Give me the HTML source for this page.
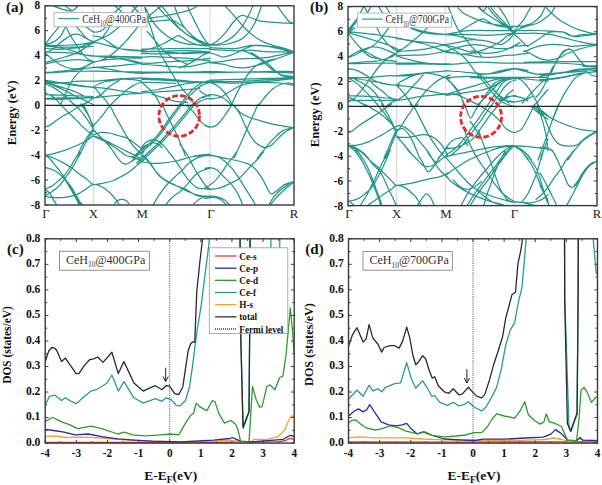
<!DOCTYPE html><html><head><meta charset="utf-8"><style>
html,body{margin:0;padding:0;background:#fff;overflow:hidden}
svg{display:block}
text{font-family:"Liberation Serif",serif}
.tk{font-weight:bold;font-size:13.2px;fill:#111}
.kl{font-size:12.8px;fill:#222}
.pl{font-weight:bold;font-size:15px;fill:#111}
.at{font-weight:bold;font-size:12.5px;fill:#111}
.lg{font-size:11px;fill:#333}
.lb{font-weight:bold;font-size:10px;fill:#111}
</style></head><body>
<svg width="602" height="485" viewBox="0 0 602 485">
<rect width="602" height="485" fill="#fff"/>
<line x1="93.3" y1="5.8" x2="93.3" y2="205.0" stroke="#888" stroke-width="0.7" stroke-dasharray="1,1"/>
<line x1="141.4" y1="5.8" x2="141.4" y2="205.0" stroke="#888" stroke-width="0.7" stroke-dasharray="1,1"/>
<line x1="210.0" y1="5.8" x2="210.0" y2="205.0" stroke="#888" stroke-width="0.7" stroke-dasharray="1,1"/>
<line x1="45.0" y1="205.00" x2="48.2" y2="205.00" stroke="#3a3a3a" stroke-width="1"/>
<text transform="translate(40.0,208.60) scale(0.85,1)" class="tk" text-anchor="end">-8</text>
<line x1="45.0" y1="192.55" x2="47.0" y2="192.55" stroke="#3a3a3a" stroke-width="1"/>
<line x1="45.0" y1="180.10" x2="48.2" y2="180.10" stroke="#3a3a3a" stroke-width="1"/>
<text transform="translate(40.0,183.70) scale(0.85,1)" class="tk" text-anchor="end">-6</text>
<line x1="45.0" y1="167.65" x2="47.0" y2="167.65" stroke="#3a3a3a" stroke-width="1"/>
<line x1="45.0" y1="155.20" x2="48.2" y2="155.20" stroke="#3a3a3a" stroke-width="1"/>
<text transform="translate(40.0,158.80) scale(0.85,1)" class="tk" text-anchor="end">-4</text>
<line x1="45.0" y1="142.75" x2="47.0" y2="142.75" stroke="#3a3a3a" stroke-width="1"/>
<line x1="45.0" y1="130.30" x2="48.2" y2="130.30" stroke="#3a3a3a" stroke-width="1"/>
<text transform="translate(40.0,133.90) scale(0.85,1)" class="tk" text-anchor="end">-2</text>
<line x1="45.0" y1="117.85" x2="47.0" y2="117.85" stroke="#3a3a3a" stroke-width="1"/>
<line x1="45.0" y1="105.40" x2="48.2" y2="105.40" stroke="#3a3a3a" stroke-width="1"/>
<text transform="translate(40.0,109.00) scale(0.85,1)" class="tk" text-anchor="end">0</text>
<line x1="45.0" y1="92.95" x2="47.0" y2="92.95" stroke="#3a3a3a" stroke-width="1"/>
<line x1="45.0" y1="80.50" x2="48.2" y2="80.50" stroke="#3a3a3a" stroke-width="1"/>
<text transform="translate(40.0,84.10) scale(0.85,1)" class="tk" text-anchor="end">2</text>
<line x1="45.0" y1="68.05" x2="47.0" y2="68.05" stroke="#3a3a3a" stroke-width="1"/>
<line x1="45.0" y1="55.60" x2="48.2" y2="55.60" stroke="#3a3a3a" stroke-width="1"/>
<text transform="translate(40.0,59.20) scale(0.85,1)" class="tk" text-anchor="end">4</text>
<line x1="45.0" y1="43.15" x2="47.0" y2="43.15" stroke="#3a3a3a" stroke-width="1"/>
<line x1="45.0" y1="30.70" x2="48.2" y2="30.70" stroke="#3a3a3a" stroke-width="1"/>
<text transform="translate(40.0,34.30) scale(0.85,1)" class="tk" text-anchor="end">6</text>
<line x1="45.0" y1="18.25" x2="47.0" y2="18.25" stroke="#3a3a3a" stroke-width="1"/>
<line x1="45.0" y1="5.80" x2="48.2" y2="5.80" stroke="#3a3a3a" stroke-width="1"/>
<text transform="translate(40.0,9.40) scale(0.85,1)" class="tk" text-anchor="end">8</text>
<clipPath id="ca"><rect x="45" y="5.8" width="249" height="199.2"/></clipPath><g clip-path="url(#ca)" fill="none" stroke="#23968c" stroke-width="1.25" stroke-linecap="round"><path d="M53.3,6.0 C54.8,6.5 59.5,8.5 62.6,9.3 C65.7,10.1 69.7,11.1 71.9,10.9 C74.1,10.7 74.9,8.8 75.9,8.0 C76.9,7.2 77.6,6.3 77.9,6.0 M65.3,6.0 C66.1,6.5 68.8,8.5 69.9,9.3 C71.1,10.1 71.4,10.6 72.2,10.6 C73.0,10.6 74.0,10.1 74.8,9.3 C75.6,8.5 76.8,6.5 77.2,6.0 M113.0,4.0 C114.8,5.7 122.2,12.3 124.0,14.0 M124.0,4.0 C122.2,5.7 114.8,12.3 113.0,14.0 M131.0,4.0 C132.3,5.5 137.7,11.5 139.0,13.0 M139.0,4.0 C137.7,5.5 132.3,11.5 131.0,13.0 M45.7,43.7 C46.3,42.9 48.1,40.5 49.2,39.0 C50.4,37.5 51.5,36.1 52.6,34.6 C53.8,33.1 55.0,31.6 56.1,30.3 C57.2,29.0 58.3,27.9 59.1,26.9 C59.9,25.8 60.7,24.5 61.0,24.0 M45.7,44.6 C46.9,44.2 50.6,43.3 52.6,42.4 C54.6,41.5 56.2,40.4 57.8,39.0 C59.4,37.6 60.8,35.8 62.1,33.8 C63.4,31.8 64.3,27.2 65.6,27.3 C66.9,27.4 68.5,32.2 69.9,34.6 C71.3,37.0 72.9,39.5 74.2,41.5 C75.5,43.5 76.6,45.0 77.7,46.7 C78.8,48.4 79.8,50.2 81.1,51.9 C82.4,53.6 83.9,55.6 85.5,57.1 C87.1,58.6 89.3,59.9 90.6,60.6 C91.9,61.3 92.8,61.3 93.2,61.4 M45.7,52.8 C46.9,52.2 50.3,50.9 52.6,49.3 C54.9,47.7 57.2,45.2 59.5,43.3 C61.8,41.4 64.3,39.5 66.5,38.1 C68.7,36.7 70.8,35.2 72.5,34.6 C74.2,34.0 75.4,34.1 76.8,34.2 C78.2,34.4 79.4,34.7 81.1,35.5 C82.8,36.3 85.2,38.0 87.2,39.0 C89.2,40.0 91.5,41.3 93.2,41.5 C94.9,41.7 95.8,40.9 97.2,40.3 C98.6,39.7 100.1,39.3 101.5,38.1 C102.9,36.9 104.5,34.7 105.8,32.9 C107.1,31.1 108.5,28.6 109.3,27.3 C110.1,26.0 110.3,25.4 110.5,25.0 M75.0,24.0 C75.3,24.5 75.9,25.7 76.8,26.9 C77.7,28.1 79.0,29.6 80.3,31.2 C81.6,32.8 83.2,35.0 84.6,36.4 C86.0,37.8 87.5,38.9 88.9,39.8 C90.3,40.6 91.2,41.6 93.2,41.5 C95.2,41.4 97.9,40.1 100.6,39.0 C103.3,37.9 106.3,36.6 109.3,34.6 C112.3,32.6 116.9,28.9 118.8,27.3 C120.7,25.7 120.2,25.4 120.5,25.0 M84.0,25.0 C84.4,25.3 85.3,26.1 86.3,26.9 C87.3,27.6 88.6,28.7 89.8,29.5 C91.0,30.3 92.0,31.4 93.2,31.8 C94.4,32.2 95.8,32.2 97.2,32.0 C98.6,31.8 100.1,31.7 101.5,30.8 C102.9,29.9 104.9,27.9 105.8,26.9 C106.7,25.9 106.8,25.3 107.0,25.0 M45.7,45.0 C47.6,45.1 53.0,45.4 57.0,45.4 C61.0,45.4 65.6,45.2 69.9,45.0 C74.2,44.8 79.0,44.5 82.9,44.1 C86.8,43.7 90.2,42.5 93.2,42.4 C96.2,42.3 97.9,43.1 100.6,43.7 C103.3,44.3 106.4,45.1 109.3,45.9 C112.2,46.7 115.0,47.9 117.9,48.5 C120.8,49.1 123.7,49.0 126.6,49.3 C129.5,49.6 132.7,50.0 135.2,50.2 C137.7,50.4 140.6,50.5 141.7,50.6 M45.7,46.2 C47.6,46.3 53.0,46.6 57.0,46.8 C61.0,47.0 66.1,47.2 69.9,47.2 C73.7,47.2 77.1,47.2 80.0,46.8 C82.9,46.4 85.0,45.2 87.2,44.6 C89.4,44.0 92.2,43.5 93.2,43.3 M45.7,48.5 C46.9,48.6 50.0,48.8 52.6,48.9 C55.2,49.0 58.4,49.4 61.3,49.3 C64.2,49.2 67.0,48.8 69.9,48.5 C72.8,48.2 75.7,47.9 78.6,47.6 C81.5,47.3 84.8,46.9 87.2,46.7 C89.6,46.5 92.2,46.4 93.2,46.3 M45.7,45.4 C46.9,45.6 50.0,46.3 52.6,46.7 C55.2,47.1 58.4,47.4 61.3,48.0 C64.2,48.6 67.0,49.4 69.9,50.2 C72.8,51.0 75.7,51.9 78.6,52.8 C81.5,53.7 84.8,54.8 87.2,55.4 C89.6,56.0 90.9,56.1 93.2,56.2 C95.5,56.3 98.3,56.0 101.0,56.0 C103.7,56.0 105.0,56.1 109.3,56.2 C113.6,56.3 121.2,56.6 126.6,56.7 C132.0,56.9 139.2,57.0 141.7,57.1 M45.7,51.9 C47.6,52.0 53.0,52.1 57.0,52.3 C61.0,52.4 65.6,52.4 69.9,52.8 C74.2,53.2 79.0,54.0 82.9,54.5 C86.8,55.0 90.2,55.4 93.2,55.8 C96.2,56.2 98.3,56.5 101.0,56.8 C103.7,57.1 105.0,57.3 109.3,57.5 C113.6,57.7 121.2,57.9 126.6,58.0 C132.0,58.1 139.2,58.2 141.7,58.2 M45.7,62.3 C46.9,62.0 50.0,61.3 52.6,60.6 C55.2,59.9 58.4,58.9 61.3,58.0 C64.2,57.1 67.0,56.4 69.9,55.4 C72.8,54.4 76.0,53.2 78.6,51.9 C81.2,50.6 83.5,48.9 85.5,47.6 C87.5,46.3 89.3,44.9 90.6,44.1 C91.9,43.3 92.8,43.0 93.2,42.8 M45.7,53.6 C46.6,54.3 49.3,56.7 50.9,58.0 C52.5,59.3 53.7,60.3 55.2,61.4 C56.7,62.5 58.1,63.5 60.0,64.5 C61.9,65.5 64.5,66.8 66.7,67.5 C68.9,68.2 70.7,68.6 73.0,68.8 C75.3,69.0 77.9,68.9 80.3,68.4 C82.7,67.9 85.4,66.6 87.6,65.6 C89.8,64.6 91.2,63.2 93.4,62.4 C95.6,61.6 97.9,61.1 100.6,60.6 C103.2,60.1 106.4,59.6 109.3,59.3 C112.2,59.0 115.0,58.7 117.9,58.8 C120.8,58.9 123.7,59.3 126.6,59.7 C129.5,60.1 132.7,60.8 135.2,61.4 C137.7,62.0 140.6,62.8 141.7,63.1 M45.7,64.0 C46.9,63.7 50.0,62.8 52.6,62.3 C55.2,61.8 58.4,61.4 61.3,61.0 C64.2,60.6 67.0,60.4 69.9,60.2 C72.8,60.0 75.7,59.6 78.6,59.7 C81.5,59.8 84.8,60.3 87.2,60.6 C89.6,60.9 92.2,61.3 93.2,61.4 M93.3,35.9 C94.0,36.0 95.8,36.1 97.2,36.4 C98.6,36.7 99.9,37.0 101.5,37.7 C103.1,38.4 105.0,39.6 106.7,40.7 C108.4,41.9 110.0,43.4 111.9,44.6 C113.8,45.8 115.5,47.1 117.9,48.0 C120.4,48.9 123.7,49.4 126.6,49.8 C129.5,50.2 132.7,50.4 135.2,50.6 C137.7,50.8 140.6,50.9 141.7,51.0 M100.6,60.6 C102.0,59.9 106.4,58.1 109.3,56.2 C112.2,54.3 115.3,51.6 117.9,49.3 C120.5,47.0 122.6,44.7 124.8,42.4 C127.0,40.1 128.8,38.0 130.9,35.5 C133.0,33.0 136.0,29.1 137.3,27.3 C138.6,25.6 138.3,25.4 138.5,25.0 M109.3,56.2 C110.7,56.6 115.0,57.8 117.9,58.4 C120.8,59.0 123.7,59.5 126.6,60.1 C129.5,60.8 132.7,61.6 135.2,62.3 C137.7,62.9 140.6,63.7 141.7,64.0 M45.8,72.4 C47.0,72.3 50.4,72.2 53.1,72.0 C55.8,71.8 59.1,71.4 62.1,71.1 C65.1,70.8 68.2,70.5 71.2,70.2 C74.2,69.9 76.6,69.8 80.3,69.3 C84.0,68.8 89.9,67.8 93.4,67.4 C96.9,67.0 98.3,67.2 101.1,67.0 C103.9,66.8 107.1,66.7 110.1,66.5 C113.1,66.3 116.2,65.9 119.2,65.6 C122.2,65.3 124.6,65.1 128.3,64.7 C132.0,64.3 139.3,63.6 141.5,63.4 M45.8,72.9 C47.8,72.8 53.4,72.6 57.6,72.4 C61.8,72.2 66.7,71.7 71.2,71.5 C75.7,71.3 81.1,71.1 84.8,71.1 C88.5,71.0 89.2,71.1 93.4,71.2 C97.6,71.3 104.3,71.4 110.1,71.5 C115.9,71.6 123.1,71.8 128.3,71.9 C133.5,72.0 139.3,71.9 141.5,71.9 M93.4,67.0 C94.7,67.2 98.3,67.5 101.1,67.9 C103.9,68.3 107.1,68.8 110.1,69.3 C113.1,69.8 116.2,70.6 119.2,71.1 C122.2,71.6 124.6,72.0 128.3,72.4 C132.0,72.8 139.3,73.2 141.5,73.3 M60.3,105.4 C60.9,103.9 62.8,99.2 64.0,96.5 C65.2,93.8 66.4,91.6 67.6,89.2 C68.8,86.8 69.8,84.3 71.2,82.0 C72.6,79.7 74.3,77.4 75.8,75.6 C77.3,73.8 78.6,72.6 80.3,71.1 C82.0,69.6 83.9,67.9 85.7,66.5 C87.5,65.1 89.9,63.8 91.2,62.9 C92.5,62.0 93.1,61.6 93.5,61.4 M45.8,80.6 C47.0,80.8 50.4,81.1 53.1,81.5 C55.8,81.9 59.1,82.5 62.1,82.9 C65.1,83.4 68.2,83.8 71.2,84.2 C74.2,84.7 76.6,85.1 80.3,85.6 C84.0,86.1 89.9,87.0 93.4,87.4 C96.9,87.8 98.3,87.6 101.1,87.9 C103.9,88.2 107.1,88.8 110.1,89.2 C113.1,89.7 116.2,90.1 119.2,90.6 C122.2,91.0 124.6,91.5 128.3,91.9 C132.0,92.4 139.3,93.1 141.5,93.3 M45.8,81.5 C47.0,81.7 50.4,82.1 53.1,82.4 C55.8,82.7 59.1,83.1 62.1,83.5 C65.1,83.9 68.2,84.5 71.2,84.9 C74.2,85.4 76.6,85.8 80.3,86.2 C84.0,86.6 90.6,86.6 93.4,87.4 C96.2,88.2 96.1,89.6 97.4,91.0 C98.7,92.4 99.7,94.1 101.1,95.6 C102.5,97.1 104.2,98.5 105.6,100.1 C106.9,101.7 108.6,104.5 109.2,105.4 M45.8,83.0 C47.3,83.0 52.0,83.2 55.0,83.2 C58.0,83.2 61.3,83.1 64.0,82.9 C66.7,82.7 68.5,82.3 71.2,82.0 C73.9,81.7 76.6,81.4 80.3,81.2 C84.0,81.0 89.9,81.2 93.4,81.1 C96.9,81.0 98.3,80.8 101.1,80.6 C103.9,80.4 107.1,80.0 110.1,79.7 C113.1,79.4 116.2,79.0 119.2,78.8 C122.2,78.6 124.6,78.4 128.3,78.3 C132.0,78.2 139.3,78.0 141.5,77.9 M93.4,87.0 C94.4,86.5 97.3,84.7 99.3,83.8 C101.3,82.9 103.0,82.1 105.6,81.5 C108.2,80.9 111.7,80.5 114.7,80.1 C117.7,79.7 120.8,79.3 123.8,79.2 C126.8,79.1 129.9,79.4 132.8,79.7 C135.8,80.0 140.1,80.9 141.5,81.1 M45.8,82.4 C47.3,83.0 51.9,84.7 54.9,86.0 C57.9,87.3 61.0,88.6 64.0,90.1 C67.0,91.5 70.0,93.2 73.0,94.7 C76.0,96.2 79.4,97.9 82.1,99.2 C84.8,100.5 87.5,101.9 89.4,102.8 C91.3,103.7 92.8,104.3 93.5,104.6 M45.8,83.8 C47.0,84.4 50.7,86.0 53.1,87.4 C55.5,88.8 58.0,90.3 60.3,92.0 C62.6,93.7 64.7,95.6 66.7,97.4 C68.7,99.2 70.7,101.5 72.1,102.8 C73.5,104.1 74.4,105.0 74.9,105.4 M45.8,94.7 C48.5,94.8 56.4,94.9 62.1,95.1 C67.8,95.3 75.1,95.8 80.3,96.0 C85.5,96.2 91.2,96.4 93.4,96.5 M45.8,98.3 C48.5,98.2 56.4,98.0 62.1,97.9 C67.8,97.8 75.1,97.9 80.3,97.9 C85.5,97.9 89.9,98.0 93.4,97.8 C96.9,97.6 98.3,97.2 101.1,96.9 C103.9,96.6 107.1,96.3 110.1,96.0 C113.1,95.7 116.2,95.4 119.2,95.1 C122.2,94.8 124.6,94.5 128.3,94.2 C132.0,93.9 139.3,93.5 141.5,93.3 M45.8,99.2 C48.5,99.2 56.4,99.4 62.1,99.2 C67.8,99.0 75.1,98.6 80.3,98.3 C85.5,98.0 91.2,97.6 93.4,97.4 M45.8,93.8 C46.7,94.1 49.5,94.5 51.3,95.6 C53.1,96.6 55.1,98.5 56.7,100.1 C58.4,101.7 60.5,104.5 61.2,105.4 M82.1,105.4 C83.0,104.8 85.7,103.1 87.6,101.9 C89.5,100.7 91.3,99.5 93.5,98.3 C95.7,97.1 98.7,96.4 101.0,94.7 C103.3,93.0 105.1,90.3 107.4,88.3 C109.7,86.3 112.7,84.2 114.7,82.9 C116.7,81.6 118.5,81.0 119.2,80.6 M110.1,105.4 C111.3,104.2 114.8,100.7 117.4,98.3 C120.0,95.9 123.0,93.1 125.6,91.0 C128.2,88.9 130.2,87.1 132.8,85.6 C135.5,84.1 140.1,82.6 141.5,82.0 M53.1,84.7 C54.6,85.2 58.3,86.2 62.1,87.4 C65.9,88.6 72.0,90.5 75.8,92.0 C79.6,93.5 81.8,95.5 84.8,96.5 C87.8,97.5 92.0,98.0 93.5,98.3 M144.8,7.6 C145.2,9.2 146.2,13.8 147.2,17.2 C148.2,20.6 149.6,24.3 150.8,27.9 C152.0,31.5 153.2,35.3 154.4,38.7 C155.6,42.1 156.7,45.4 157.9,48.3 C159.1,51.2 160.5,54.1 161.5,56.0 C162.5,57.9 162.5,57.2 163.9,59.6 C165.3,62.0 167.9,66.9 169.9,70.3 C171.9,73.7 173.9,76.9 175.9,79.9 C177.9,82.9 179.9,85.7 181.9,88.3 C183.9,90.9 186.0,93.2 187.8,95.4 C189.6,97.6 191.2,99.8 192.6,101.4 C194.0,103.1 195.6,104.7 196.2,105.3 M145.4,7.6 C146.5,9.8 149.3,16.7 152.0,20.7 C154.7,24.7 157.9,28.3 161.5,31.5 C165.1,34.7 169.1,37.8 173.5,39.9 C177.9,42.0 181.7,43.2 187.8,44.1 C193.9,45.0 206.3,45.1 210.0,45.3 M157.9,7.0 C158.9,8.1 161.7,11.3 163.9,13.6 C166.1,15.9 168.7,18.3 171.1,20.7 C173.5,23.1 175.5,25.5 178.3,27.9 C181.1,30.3 184.6,33.1 187.8,35.1 C191.0,37.1 193.7,38.2 197.4,39.9 C201.1,41.6 207.9,44.4 210.0,45.3 M162.7,7.0 C163.7,8.3 166.5,11.9 168.7,14.8 C170.9,17.7 173.5,21.5 175.9,24.3 C178.3,27.1 180.5,29.3 183.1,31.5 C185.7,33.7 188.6,35.7 191.4,37.5 C194.2,39.3 196.7,41.0 199.8,42.3 C202.9,43.6 208.3,44.8 210.0,45.3 M174.7,7.0 C175.3,8.5 176.9,12.9 178.3,16.0 C179.7,19.1 181.3,22.7 183.1,25.5 C184.9,28.3 186.8,30.5 189.0,32.7 C191.2,34.9 193.8,37.1 196.2,38.7 C198.6,40.3 201.1,41.2 203.4,42.3 C205.7,43.4 208.9,44.8 210.0,45.3 M187.8,7.0 C188.4,8.3 190.0,11.9 191.4,14.8 C192.8,17.7 194.6,21.1 196.2,24.3 C197.8,27.5 199.4,31.1 201.0,33.9 C202.6,36.7 204.3,39.2 205.8,41.1 C207.3,43.0 209.3,44.6 210.0,45.3 M141.8,19.5 C143.5,19.2 148.3,18.4 152.0,17.8 C155.7,17.2 159.9,16.7 163.9,16.0 C167.9,15.3 171.9,14.5 175.9,13.6 C179.9,12.7 184.4,11.7 187.8,10.6 C191.2,9.5 194.8,7.6 196.2,7.0 M141.8,22.3 C143.5,22.2 148.3,21.8 152.0,21.5 C155.7,21.2 160.5,20.7 163.9,20.5 C167.3,20.3 169.7,19.6 172.3,20.2 C174.9,20.8 177.3,23.0 179.5,24.3 C181.7,25.6 184.5,27.4 185.5,28.0 M141.8,22.0 C142.5,21.4 144.3,19.8 146.0,18.4 C147.7,17.0 150.0,15.2 152.0,13.6 C154.0,12.0 156.3,10.0 157.9,8.8 C159.5,7.6 160.9,6.8 161.5,6.4 M141.8,50.6 C143.5,50.2 148.3,49.5 152.0,48.3 C155.7,47.1 160.5,45.1 163.9,43.5 C167.3,41.9 169.9,40.0 172.3,38.7 C174.7,37.4 176.5,35.8 178.3,35.7 C180.1,35.6 181.1,37.0 183.1,38.1 C185.1,39.2 187.4,41.1 190.2,42.3 C193.0,43.5 196.5,44.7 199.8,45.3 C203.1,45.9 208.3,45.8 210.0,45.9 M141.8,49.2 C145.5,49.1 156.2,48.9 163.9,48.8 C171.6,48.6 180.1,48.3 187.8,48.3 C195.5,48.3 206.3,48.7 210.0,48.8 M141.8,51.6 C145.5,51.5 156.2,51.4 163.9,51.2 C171.6,51.0 180.1,50.5 187.8,50.6 C195.5,50.7 206.3,51.6 210.0,51.8 M141.8,53.5 C145.5,53.5 156.2,54.0 163.9,53.8 C171.6,53.6 180.1,52.8 187.8,52.5 C195.5,52.2 206.3,52.2 210.0,52.2 M147.2,31.5 C148.4,32.9 152.2,37.3 154.4,39.9 C156.6,42.5 158.1,44.7 160.3,47.1 C162.5,49.5 165.1,52.2 167.5,54.2 C169.9,56.2 171.6,57.3 175.0,59.0 C178.4,60.7 185.7,63.5 187.8,64.4 M141.8,52.0 C143.5,51.9 148.3,51.3 152.0,51.3 C155.7,51.3 159.9,51.5 163.9,51.8 C167.9,52.1 171.9,52.7 175.9,53.0 C179.9,53.3 183.8,53.6 187.8,53.6 C191.8,53.6 196.1,53.2 199.8,53.0 C203.5,52.8 208.3,52.5 210.0,52.4 M141.8,57.2 C143.5,57.1 148.3,56.6 152.0,56.6 C155.7,56.6 159.9,57.0 163.9,57.2 C167.9,57.4 171.9,57.6 175.9,57.8 C179.9,58.0 183.8,58.1 187.8,58.4 C191.8,58.7 196.1,59.2 199.8,59.6 C203.5,60.0 208.3,60.6 210.0,60.8 M141.8,63.2 C143.5,63.2 148.3,63.4 152.0,63.2 C155.7,63.0 159.9,62.3 163.9,62.0 C167.9,61.7 171.9,61.6 175.9,61.4 C179.9,61.2 183.8,61.1 187.8,60.8 C191.8,60.5 196.1,60.0 199.8,59.6 C203.5,59.2 208.3,58.6 210.0,58.4 M141.8,64.4 C143.5,64.5 148.3,64.7 152.0,65.0 C155.7,65.3 159.9,65.8 163.9,66.1 C167.9,66.4 171.9,66.6 175.9,66.7 C179.9,66.8 183.8,67.1 187.8,66.7 C191.8,66.3 196.1,65.2 199.8,64.4 C203.5,63.6 208.3,62.4 210.0,62.0 M179.5,67.9 C180.9,67.3 185.0,65.8 187.8,64.4 C190.6,63.0 193.6,61.2 196.2,59.6 C198.8,58.0 201.1,56.0 203.4,54.8 C205.7,53.6 208.9,52.8 210.0,52.4 M141.8,72.1 C145.5,72.1 156.2,72.1 163.9,72.1 C171.6,72.1 180.1,72.2 187.8,72.1 C195.5,72.0 206.3,71.6 210.0,71.5 M141.8,73.3 C145.5,73.2 156.2,72.8 163.9,72.7 C171.6,72.6 180.1,72.7 187.8,72.7 C195.5,72.7 206.3,72.7 210.0,72.7 M141.8,78.1 C144.5,78.2 152.2,78.4 157.9,78.7 C163.6,79.0 169.9,79.4 175.9,79.9 C181.9,80.4 188.1,81.4 193.8,81.7 C199.5,82.0 207.3,81.7 210.0,81.7 M141.8,79.3 C144.5,79.4 152.2,79.6 157.9,79.9 C163.6,80.2 169.9,80.7 175.9,81.1 C181.9,81.5 188.1,82.1 193.8,82.3 C199.5,82.5 207.3,82.3 210.0,82.3 M141.8,82.3 C143.5,82.3 148.3,82.2 152.0,82.3 C155.7,82.4 159.9,82.7 163.9,82.9 C167.9,83.1 173.9,83.4 175.9,83.5 M141.8,82.3 C142.7,83.1 145.5,85.5 147.2,87.1 C148.9,88.7 150.4,90.1 152.0,91.9 C153.6,93.7 155.3,95.6 156.7,97.8 C158.1,100.0 159.7,104.0 160.3,105.3 M141.8,91.9 C144.5,91.5 152.2,90.5 157.9,89.5 C163.6,88.5 170.9,86.9 175.9,85.9 C180.9,84.9 183.8,84.1 187.8,83.5 C191.8,82.9 196.1,82.7 199.8,82.3 C203.5,81.9 208.3,81.3 210.0,81.1 M141.8,93.0 C144.5,92.8 152.2,92.3 157.9,91.9 C163.6,91.5 170.9,91.1 175.9,90.7 C180.9,90.3 183.8,89.9 187.8,89.5 C191.8,89.1 197.8,88.5 199.8,88.3 M152.0,94.3 C154.0,94.9 159.9,96.6 163.9,97.8 C167.9,99.0 171.9,100.6 175.9,101.4 C179.9,102.2 185.8,102.4 187.8,102.6 M179.5,105.3 C180.5,104.0 183.4,100.2 185.4,97.8 C187.4,95.4 189.2,92.9 191.4,90.7 C193.6,88.5 196.0,86.3 198.6,84.7 C201.2,83.1 205.1,81.8 207.0,81.1 C208.9,80.4 209.5,80.6 210.0,80.5 M181.9,105.3 C182.9,104.0 185.8,100.0 187.8,97.8 C189.8,95.6 191.6,93.9 193.8,91.9 C196.0,89.9 198.3,87.5 201.0,85.9 C203.7,84.3 208.5,82.9 210.0,82.3 M192.6,105.3 C193.4,104.5 195.6,101.7 197.4,100.2 C199.2,98.8 201.3,97.4 203.4,96.6 C205.5,95.8 208.9,95.6 210.0,95.4 M195.0,105.3 C195.8,104.7 198.0,102.5 199.8,101.4 C201.6,100.4 204.1,99.5 205.8,99.0 C207.5,98.5 209.3,98.5 210.0,98.4 M199.8,90.7 C200.6,91.3 202.9,93.4 204.6,94.3 C206.3,95.2 209.1,95.7 210.0,96.0 M209.7,45.2 C210.9,44.6 214.1,43.7 216.7,41.6 C219.3,39.5 222.4,36.3 225.3,32.9 C228.2,29.5 231.3,24.2 234.0,21.3 C236.7,18.4 238.8,16.3 241.2,15.6 C243.6,14.9 245.6,16.2 248.5,17.0 C251.4,17.8 255.0,19.8 258.6,20.6 C262.2,21.5 266.5,21.7 270.1,22.1 C273.7,22.5 276.5,22.6 280.3,22.8 C284.1,23.0 290.9,23.4 293.0,23.5 M209.7,45.2 C211.8,44.8 218.4,44.6 222.5,43.0 C226.6,41.4 230.6,38.7 234.0,35.8 C237.4,32.9 240.0,29.5 242.7,25.7 C245.3,21.9 248.2,15.9 249.9,12.7 C251.6,9.4 252.3,7.3 252.8,6.2 M209.7,45.2 C212.3,45.1 220.3,45.4 225.3,44.5 C230.3,43.6 235.9,42.0 239.8,40.1 C243.7,38.2 245.8,36.0 248.5,32.9 C251.2,29.8 253.5,25.8 255.7,21.3 C257.9,16.9 260.5,8.7 261.5,6.2 M225.3,6.2 C226.8,7.8 231.1,12.3 234.0,15.6 C236.9,18.9 239.8,22.6 242.7,25.7 C245.6,28.8 248.0,31.6 251.4,34.3 C254.8,36.9 259.0,39.7 262.9,41.6 C266.8,43.5 270.6,44.7 274.5,45.9 C278.4,47.1 282.9,47.8 286.0,48.8 C289.1,49.8 291.8,51.2 293.0,51.7 M277.4,6.2 C278.3,7.5 281.2,11.6 283.1,14.1 C285.0,16.6 287.2,19.7 288.9,21.3 C290.5,22.9 292.3,23.1 293.0,23.5 M209.7,47.6 C211.8,47.7 217.9,48.2 222.5,48.3 C227.1,48.4 232.2,48.8 237.0,48.3 C241.8,47.8 246.6,45.8 251.4,45.4 C256.2,45.0 261.0,45.6 265.8,46.2 C270.6,46.8 275.8,48.1 280.3,49.1 C284.8,50.1 290.9,51.5 293.0,52.0 M209.7,49.5 C211.8,49.6 217.9,50.0 222.5,50.2 C227.1,50.4 232.2,50.9 237.0,50.9 C241.8,50.9 246.6,50.1 251.4,50.2 C256.2,50.3 258.9,51.3 265.8,51.6 C272.7,51.9 288.5,51.9 293.0,52.0 M209.7,52.7 C210.9,53.1 214.6,54.1 216.7,54.8 C218.8,55.5 220.3,56.9 222.5,57.0 C224.7,57.1 227.3,56.3 229.7,55.6 C232.1,54.9 234.5,53.8 236.9,52.7 C239.3,51.6 241.7,50.2 244.1,49.1 C246.5,48.0 249.0,46.8 251.4,46.2 C253.8,45.6 255.0,45.3 258.6,45.4 C262.2,45.5 267.3,45.8 273.0,46.9 C278.7,48.0 289.7,51.1 293.0,52.0 M244.1,51.2 C245.3,51.7 249.0,52.9 251.4,54.1 C253.8,55.3 256.2,56.8 258.6,58.5 C261.0,60.2 263.4,62.3 265.8,64.2 C268.2,66.1 270.6,68.3 273.0,70.0 C275.4,71.7 277.9,73.3 280.3,74.3 C282.7,75.3 285.4,75.4 287.5,75.8 C289.6,76.2 292.1,76.4 293.0,76.5 M251.4,52.7 C253.3,53.9 259.8,57.7 262.9,59.9 C266.0,62.1 267.7,63.5 270.1,65.7 C272.5,67.9 275.0,71.1 277.4,72.9 C279.8,74.7 282.0,75.8 284.6,76.5 C287.2,77.2 291.6,77.1 293.0,77.2 M209.7,62.8 C211.8,62.5 217.9,61.9 222.5,61.3 C227.1,60.7 232.2,59.7 237.0,59.2 C241.8,58.7 246.6,58.8 251.4,58.5 C256.2,58.2 261.0,58.3 265.8,57.7 C270.6,57.1 275.8,55.8 280.3,54.8 C284.8,53.8 290.9,52.5 293.0,52.0 M209.7,62.8 C211.8,63.0 218.4,63.5 222.5,64.2 C226.6,64.9 230.4,66.5 234.0,67.1 C237.6,67.7 240.5,68.0 244.1,67.8 C247.7,67.6 252.1,66.5 255.7,65.7 C259.3,64.9 262.2,64.0 265.8,62.8 C269.4,61.6 272.9,60.2 277.4,58.5 C281.9,56.8 290.4,53.7 293.0,52.7 M231.1,105.4 C232.1,103.4 234.7,97.3 236.9,93.1 C239.1,88.9 241.7,83.9 244.1,80.1 C246.5,76.2 249.0,72.7 251.4,70.0 C253.8,67.3 256.2,65.7 258.6,64.2 C261.0,62.8 262.7,62.2 265.8,61.3 C268.9,60.3 275.5,59.0 277.4,58.5 M209.7,71.5 C214.2,71.6 227.7,72.2 237.0,72.2 C246.3,72.2 256.5,71.6 265.8,71.5 C275.1,71.4 288.5,71.5 293.0,71.5 M209.7,72.9 C214.2,72.8 227.7,72.3 237.0,72.2 C246.3,72.1 256.5,72.1 265.8,72.2 C275.1,72.3 288.5,72.8 293.0,72.9 M209.7,80.8 C213.3,80.9 224.4,81.6 231.4,81.6 C238.4,81.6 244.5,81.2 251.4,80.8 C258.3,80.4 266.1,79.9 273.0,79.4 C279.9,78.9 289.7,78.2 293.0,78.0 M209.7,82.3 C213.3,82.4 224.4,83.0 231.4,83.0 C238.4,83.0 244.5,82.7 251.4,82.3 C258.3,81.9 266.1,81.4 273.0,80.8 C279.9,80.2 289.7,79.0 293.0,78.7 M209.7,80.1 C214.2,80.0 228.8,79.6 237.0,79.4 C245.2,79.2 251.4,78.9 258.6,78.7 C265.8,78.5 274.6,78.1 280.3,78.0 C286.0,77.9 290.9,78.0 293.0,78.0 M209.7,82.3 C210.9,82.8 214.6,83.9 216.7,85.2 C218.8,86.5 220.6,88.2 222.5,90.2 C224.4,92.2 226.5,95.0 228.2,97.5 C229.9,100.0 231.9,104.1 232.6,105.4 M209.7,94.6 C210.9,94.7 214.6,94.8 216.7,95.3 C218.8,95.8 220.6,96.4 222.5,97.5 C224.4,98.6 226.8,100.5 228.2,101.8 C229.6,103.1 230.6,104.8 231.1,105.4 M209.7,98.9 C211.3,98.7 216.3,98.7 219.6,97.5 C222.9,96.3 226.3,93.6 229.7,91.7 C233.1,89.8 236.2,87.4 239.8,85.9 C243.4,84.5 247.1,83.6 251.4,83.0 C255.7,82.4 261.0,82.3 265.8,82.3 C270.6,82.3 275.8,82.5 280.3,83.0 C284.8,83.5 290.9,84.8 293.0,85.2 M258.6,105.4 C259.8,103.8 263.4,98.8 265.8,96.0 C268.2,93.2 270.6,90.7 273.0,88.8 C275.4,86.9 277.9,85.5 280.3,84.5 C282.7,83.5 285.4,83.1 287.5,83.0 C289.6,82.9 292.1,83.6 293.0,83.7 M203.0,98.0 C204.1,97.4 208.6,95.2 209.7,94.6 M44.0,127.3 C44.3,127.2 44.5,127.4 45.6,127.0 C46.7,126.6 48.5,126.1 50.4,124.9 C52.3,123.8 54.8,121.6 56.9,120.1 C59.0,118.6 61.2,117.0 63.3,115.8 C65.4,114.5 67.6,113.8 69.7,112.6 C71.8,111.3 74.1,109.5 76.1,108.3 C78.1,107.1 80.3,106.2 81.5,105.6 C82.7,105.0 82.8,104.7 83.0,104.5 M60.0,104.0 C60.2,104.2 60.2,104.2 61.1,105.1 C62.0,106.0 63.6,107.6 65.4,109.4 C67.2,111.2 69.8,113.7 71.9,115.8 C74.1,117.9 76.2,120.1 78.3,122.2 C80.4,124.3 82.7,126.8 84.7,128.6 C86.7,130.4 88.6,131.9 90.1,132.9 C91.6,133.9 91.7,134.9 93.5,134.8 C95.3,134.7 98.1,132.7 100.7,132.4 C103.3,132.1 106.4,132.5 109.3,133.0 C112.2,133.5 114.9,134.6 117.9,135.5 C120.9,136.4 124.7,137.0 127.5,138.3 C130.3,139.7 132.6,141.8 135.0,143.6 C137.4,145.4 140.8,148.1 142.0,149.0 M74.0,104.0 C74.2,104.2 74.2,104.2 75.1,105.1 C76.0,106.0 77.8,107.6 79.4,109.4 C81.0,111.2 83.1,113.7 84.7,115.8 C86.3,117.9 87.8,120.3 89.0,122.2 C90.2,124.1 91.5,125.7 92.2,127.0 C93.0,128.3 92.4,128.6 93.5,130.0 C94.6,131.4 97.1,133.6 99.0,135.5 C100.9,137.4 103.3,139.6 105.1,141.5 C106.9,143.4 108.5,145.2 110.0,147.0 C111.5,148.8 112.6,150.5 113.9,152.4 C115.2,154.3 116.5,156.7 118.0,158.5 C119.5,160.3 121.1,162.4 122.6,163.3 C124.1,164.2 125.6,164.3 127.0,164.0 C128.4,163.7 129.8,162.3 131.2,161.5 C132.6,160.7 134.0,159.8 135.7,159.0 C137.4,158.2 140.3,157.2 141.2,156.8 M80.5,104.0 C80.7,104.2 80.8,104.2 81.5,105.1 C82.2,106.0 83.6,107.8 84.7,109.4 C85.8,111.0 86.8,112.8 87.9,114.7 C89.0,116.7 90.2,119.1 91.1,121.1 C92.0,123.1 93.1,125.6 93.5,126.5 M82.5,104.0 C82.7,104.2 82.8,104.3 83.5,105.5 C84.2,106.7 85.5,109.0 86.5,111.0 C87.5,113.0 88.6,115.3 89.5,117.5 C90.4,119.7 91.3,122.4 92.0,124.0 C92.7,125.6 93.2,126.5 93.5,127.0 M93.4,125.4 C94.3,124.5 96.8,122.1 98.6,120.1 C100.3,118.1 102.0,115.8 103.9,113.6 C105.8,111.4 108.0,106.5 109.8,106.7 C111.6,106.9 112.9,111.8 114.6,114.7 C116.3,117.7 118.2,121.2 120.0,124.4 C121.8,127.6 123.6,131.0 125.4,134.0 C127.2,137.0 128.9,140.1 130.7,142.6 C132.5,145.1 134.2,147.0 136.1,149.0 C138.0,151.0 141.0,153.5 142.0,154.4 M77.2,156.0 C77.9,154.5 80.1,149.7 81.5,146.9 C82.9,144.1 84.4,141.7 85.8,139.4 C87.2,137.1 88.8,134.6 90.1,132.9 C91.4,131.2 92.9,129.8 93.5,129.2 M79.2,156.0 C79.9,154.5 82.1,149.9 83.5,147.2 C84.9,144.4 86.3,141.8 87.6,139.5 C88.9,137.2 90.5,135.0 91.5,133.5 C92.5,132.0 93.2,131.0 93.5,130.5 M44.0,155.6 C44.3,155.6 43.8,155.8 45.6,155.4 C47.4,155.0 51.4,154.2 54.7,153.3 C58.0,152.4 61.8,151.3 65.4,150.1 C69.0,148.8 72.9,147.2 76.1,145.8 C79.3,144.4 82.4,142.8 84.7,141.5 C87.0,140.2 88.6,139.2 90.1,138.3 C91.5,137.4 91.6,136.1 93.4,136.1 C95.2,136.1 97.7,137.1 100.7,138.3 C103.7,139.6 107.8,141.8 111.4,143.6 C115.0,145.4 118.5,147.2 122.1,149.0 C125.7,150.8 129.6,152.7 132.9,154.4 C136.2,156.2 140.3,158.7 141.8,159.5 M93.4,136.1 C95.3,137.0 100.9,139.3 105.0,141.5 C109.1,143.7 114.4,147.2 117.8,149.5 C121.2,151.8 122.8,154.0 125.6,155.3 C128.4,156.7 131.8,156.6 134.5,157.6 C137.2,158.6 140.6,160.8 141.8,161.5 M136.1,156.0 C136.8,155.0 139.1,151.6 140.4,150.1 C141.7,148.6 143.4,147.4 144.0,146.9 M132.0,157.7 C132.8,157.1 134.9,155.3 136.5,154.0 C138.1,152.7 139.6,151.8 141.8,150.0 C144.1,148.2 147.3,145.6 150.0,143.0 C152.7,140.4 155.8,137.3 158.0,134.7 C160.2,132.1 161.8,129.7 163.5,127.2 C165.2,124.7 167.1,121.9 168.5,119.9 C169.9,117.9 170.8,116.7 172.0,115.0 C173.2,113.3 174.6,111.8 175.9,110.0 C177.2,108.2 179.0,105.6 179.8,104.5 C180.6,103.4 180.4,103.7 180.5,103.5 M133.0,159.0 C133.8,158.4 135.9,156.6 137.5,155.3 C139.1,154.0 140.5,153.2 142.8,151.3 C145.1,149.4 148.5,146.6 151.2,144.0 C153.9,141.4 156.9,138.3 159.2,135.7 C161.4,133.1 162.9,130.7 164.7,128.2 C166.4,125.7 168.3,122.9 169.7,120.9 C171.1,118.9 172.0,117.7 173.2,116.0 C174.4,114.3 175.8,112.8 177.1,111.0 C178.4,109.2 180.2,106.7 181.0,105.5 C181.8,104.3 181.6,104.2 181.7,104.0 M136.5,162.9 C137.6,162.0 140.4,159.8 143.0,157.5 C145.6,155.2 148.9,151.9 152.0,149.0 C155.1,146.1 159.3,142.4 161.7,140.0 C164.1,137.6 164.7,136.5 166.5,134.5 C168.3,132.5 170.6,130.4 172.8,127.9 C175.1,125.4 177.5,122.5 180.0,119.5 C182.5,116.5 185.8,112.3 187.7,110.0 C189.6,107.7 190.6,106.6 191.5,105.5 C192.4,104.4 192.8,103.8 193.0,103.5 M137.7,164.2 C138.8,163.3 141.6,161.1 144.2,158.8 C146.8,156.5 150.1,153.2 153.2,150.3 C156.3,147.4 160.5,143.7 162.9,141.3 C165.3,138.9 165.8,137.8 167.7,135.8 C169.5,133.8 171.8,131.7 174.0,129.2 C176.2,126.7 178.7,123.8 181.2,120.8 C183.7,117.8 187.0,113.6 188.9,111.3 C190.8,109.0 191.8,108.0 192.7,106.8 C193.6,105.6 193.9,104.5 194.2,104.0 M162.0,104.0 C162.1,104.2 162.0,103.6 162.7,105.2 C163.4,106.8 164.9,110.6 166.3,113.6 C167.7,116.6 169.5,119.9 171.1,123.1 C172.7,126.3 174.5,129.7 175.9,132.7 C177.3,135.7 178.3,138.3 179.5,141.1 C180.7,143.9 182.1,146.9 183.1,149.4 C184.1,151.9 185.0,154.9 185.4,156.0 M187.0,105.0 C187.1,105.2 186.9,105.4 187.8,106.4 C188.7,107.4 191.0,109.4 192.6,111.2 C194.2,113.0 195.8,115.2 197.4,117.2 C199.0,119.2 200.6,121.6 202.2,123.1 C203.8,124.6 205.7,125.5 207.0,126.1 C208.3,126.7 209.5,126.6 210.0,126.7 M141.8,147.0 C142.5,146.2 144.3,143.5 146.0,142.3 C147.7,141.1 150.0,140.1 152.0,139.9 C154.0,139.7 155.9,140.1 157.9,141.1 C159.9,142.1 162.1,144.1 163.9,145.9 C165.7,147.7 167.3,150.1 168.7,151.8 C170.1,153.5 171.7,155.3 172.3,156.0 M141.8,148.2 C142.7,147.6 145.3,145.4 147.2,144.5 C149.1,143.6 151.2,142.9 153.0,142.8 C154.8,142.7 156.5,143.2 158.0,144.0 C159.5,144.8 161.3,146.9 162.0,147.5 M193.8,156.0 C195.2,155.8 199.5,155.1 202.2,154.8 C204.9,154.5 208.7,154.3 210.0,154.2 M205.0,125.7 C205.8,126.0 207.9,127.3 209.9,127.2 C211.9,127.1 214.6,126.8 217.0,124.9 C219.4,123.0 222.2,119.0 224.4,116.0 C226.6,113.0 229.0,108.9 230.4,107.0 C231.8,105.1 232.3,105.1 232.7,104.7 M232.7,104.7 C234.1,106.1 238.1,110.9 240.9,113.0 C243.8,115.1 246.3,116.1 249.8,117.5 C253.3,118.9 257.3,120.0 261.8,121.2 C266.3,122.4 271.5,123.8 276.7,124.9 C281.9,126.0 290.4,127.1 293.2,127.6 M234.9,106.2 C235.9,107.8 238.9,112.1 240.9,116.0 C242.9,119.9 244.7,125.2 246.9,129.4 C249.1,133.6 251.8,138.5 254.3,141.4 C256.8,144.3 259.8,145.6 261.8,146.6 C263.8,147.6 264.6,147.7 266.3,147.3 C268.1,146.9 269.6,146.6 272.3,144.4 C275.0,142.2 279.2,136.7 282.7,133.9 C286.2,131.1 291.4,128.7 293.2,127.6 M258.1,104.0 C257.2,106.0 254.7,111.8 252.8,116.0 C250.9,120.2 248.9,124.9 246.9,129.4 C244.9,133.9 243.0,138.1 240.9,142.9 C238.8,147.7 235.2,155.5 234.1,158.0 M257.3,158.0 C258.6,156.5 262.1,152.1 264.8,148.8 C267.6,145.5 270.8,141.4 273.8,138.4 C276.8,135.4 279.5,132.7 282.7,130.9 C285.9,129.1 291.4,128.2 293.2,127.6 M205.0,155.6 C206.0,155.6 209.0,155.5 211.0,155.6 C213.0,155.7 215.0,155.9 217.0,156.3 C219.0,156.7 221.9,157.7 222.9,158.0 M45.7,155.3 C47.3,155.9 52.1,157.4 55.1,158.7 C58.1,160.0 61.2,161.5 64.0,163.1 C66.8,164.7 69.2,166.2 71.8,168.1 C74.4,170.0 77.2,172.5 79.6,174.3 C82.0,176.1 84.0,177.0 86.3,178.7 C88.6,180.4 90.4,183.6 93.3,184.3 C96.2,185.1 100.2,183.8 103.4,183.2 C106.6,182.6 109.3,182.1 112.3,181.0 C115.3,179.9 118.4,178.0 121.2,176.5 C124.0,175.0 126.4,173.8 129.0,172.0 C131.6,170.2 134.7,167.2 136.8,165.4 C138.9,163.7 140.6,162.4 141.8,161.5 C143.0,160.6 143.6,160.1 144.0,159.8 M45.7,155.3 C46.5,156.1 49.0,157.9 50.7,159.8 C52.5,161.7 54.5,164.5 56.2,166.5 C57.9,168.5 59.2,170.0 60.7,172.0 C62.2,174.0 63.7,176.3 65.2,178.7 C66.7,181.1 68.1,183.9 69.6,186.5 C71.1,189.1 72.8,191.9 74.1,194.3 C75.4,196.7 76.7,199.4 77.4,201.0 C78.1,202.6 78.3,203.5 78.5,204.0 M45.7,167.6 C46.9,168.0 50.8,168.9 52.9,169.8 C55.0,170.7 56.6,171.7 58.5,173.2 C60.4,174.7 62.3,176.7 64.0,178.7 C65.7,180.7 67.0,183.0 68.5,185.4 C70.0,187.8 71.5,190.6 73.0,193.2 C74.5,195.8 76.4,199.2 77.4,201.0 C78.4,202.8 78.8,203.5 79.1,204.0 M64.5,179.0 C65.3,180.2 67.9,183.5 69.5,186.0 C71.1,188.5 72.5,191.4 74.0,194.0 C75.5,196.6 77.5,199.8 78.5,201.5 C79.5,203.2 79.9,203.6 80.2,204.0 M65.0,179.2 C65.9,180.4 68.6,183.8 70.2,186.3 C71.8,188.8 73.3,191.6 74.8,194.2 C76.3,196.8 78.2,200.2 79.3,201.8 C80.4,203.4 80.9,203.6 81.2,204.0 M65.5,179.4 C66.4,180.6 69.3,184.1 71.0,186.6 C72.7,189.1 74.1,191.8 75.6,194.4 C77.1,197.0 79.0,200.4 80.1,202.0 C81.2,203.6 81.8,203.7 82.2,204.0 M45.7,188.7 C46.9,188.1 50.6,186.9 52.9,185.4 C55.2,183.9 57.5,181.7 59.6,179.8 C61.7,178.0 63.4,176.5 65.2,174.3 C67.0,172.1 69.0,169.1 70.7,166.5 C72.4,163.9 73.7,161.1 75.2,158.7 C76.7,156.3 78.9,153.1 79.6,152.0 M45.7,195.4 C46.9,194.7 50.6,192.7 52.9,191.0 C55.2,189.3 57.4,187.8 59.6,185.4 C61.8,183.0 64.3,179.3 66.3,176.5 C68.3,173.7 70.1,171.3 71.8,168.7 C73.5,166.1 75.0,163.3 76.3,160.9 C77.6,158.5 78.8,155.7 79.6,154.2 C80.4,152.7 80.8,152.4 81.0,152.0 M45.7,196.5 C47.3,196.7 51.7,197.6 55.1,197.7 C58.5,197.8 62.6,197.7 66.3,197.1 C70.0,196.5 74.1,195.7 77.4,194.3 C80.7,192.9 83.7,190.4 86.3,188.7 C88.9,187.0 90.8,184.7 93.3,184.3 C95.8,183.9 98.7,185.4 101.1,186.5 C103.5,187.6 105.8,189.3 107.8,191.0 C109.8,192.7 111.7,194.7 113.4,196.5 C115.1,198.3 116.9,200.8 117.8,202.1 C118.7,203.3 118.8,203.7 119.0,204.0 M45.7,189.9 C46.4,190.4 48.4,191.7 49.6,193.2 C50.8,194.7 51.8,197.0 52.9,198.8 C54.0,200.6 55.7,203.1 56.2,204.0 M114.5,204.0 C115.0,203.4 116.5,201.2 117.8,200.4 C119.1,199.6 120.8,199.2 122.3,199.3 C123.8,199.4 125.6,200.2 126.7,201.0 C127.8,201.8 128.6,203.5 129.0,204.0 M134.5,157.6 C135.2,157.0 137.4,155.1 139.0,154.2 C140.6,153.3 143.2,152.4 144.0,152.0 M141.8,161.6 C143.5,161.9 148.3,163.2 152.0,163.4 C155.7,163.6 159.9,163.2 163.9,162.8 C167.9,162.4 171.9,161.8 175.9,161.0 C179.9,160.2 184.8,158.5 188.2,157.7 C191.6,156.9 192.7,156.5 196.3,156.1 C199.9,155.7 207.5,155.3 209.7,155.2 M153.2,204.6 C154.2,203.0 156.9,198.3 159.1,195.1 C161.3,191.9 163.5,188.7 166.3,185.5 C169.1,182.3 173.3,178.4 175.9,175.9 C178.5,173.4 179.9,172.5 182.0,170.5 C184.1,168.5 185.8,165.8 188.2,163.8 C190.6,161.8 193.6,159.8 196.3,158.4 C199.0,157.0 202.3,156.1 204.5,155.6 C206.7,155.1 208.8,155.3 209.7,155.2 M166.0,204.6 C166.8,203.6 169.3,200.2 171.0,198.5 C172.7,196.8 174.5,195.6 176.0,194.5 C177.5,193.4 178.2,193.3 180.0,191.7 C181.8,190.1 184.5,187.4 186.8,184.9 C189.1,182.4 191.3,179.0 193.6,176.7 C195.9,174.4 197.7,172.7 200.4,171.3 C203.1,169.9 208.1,168.8 209.7,168.3 M168.7,152.0 C169.5,153.0 171.7,155.6 173.5,158.0 C175.3,160.4 177.5,163.4 179.5,166.4 C181.5,169.4 183.4,173.1 185.4,175.9 C187.4,178.7 189.4,181.1 191.4,183.1 C193.4,185.1 195.5,187.0 197.4,187.9 C199.3,188.8 201.1,188.4 203.1,188.6 C205.1,188.8 208.6,188.9 209.7,189.0 M180.0,144.1 C180.7,145.1 182.6,148.0 184.0,150.0 C185.4,152.0 186.6,153.4 188.2,156.3 C189.8,159.2 191.6,163.6 193.6,167.2 C195.6,170.8 198.4,175.0 200.4,178.1 C202.4,181.2 203.9,183.7 205.5,185.5 C207.1,187.3 209.0,188.4 209.7,189.0 M141.8,154.4 C142.7,155.2 145.3,157.0 147.2,159.2 C149.1,161.4 151.2,164.7 153.2,167.5 C155.2,170.3 156.7,173.5 159.1,175.9 C161.5,178.3 164.7,180.3 167.5,181.9 C170.3,183.5 172.9,184.3 175.9,185.5 C178.9,186.7 181.8,187.4 185.4,189.1 C189.0,190.8 193.6,194.6 197.7,195.8 C201.8,197.0 207.7,196.4 209.7,196.5 M141.8,155.6 C142.9,156.6 146.1,159.0 148.4,161.6 C150.7,164.2 153.2,168.3 155.6,171.1 C158.0,173.9 160.1,176.3 162.7,178.3 C165.3,180.3 168.1,181.5 171.1,183.1 C174.1,184.7 177.5,186.3 180.7,187.9 C183.9,189.5 187.0,191.2 190.2,192.5 C193.4,193.8 196.8,194.8 200.0,195.5 C203.2,196.2 208.1,196.3 209.7,196.5 M193.6,204.0 C194.7,203.1 197.7,199.8 200.4,198.5 C203.1,197.2 208.1,196.8 209.7,196.5 M205.0,155.0 C205.8,155.0 207.4,154.6 209.9,155.0 C212.4,155.4 216.3,156.4 220.0,157.2 C223.7,157.9 227.9,158.6 231.9,159.5 C235.9,160.4 240.7,161.5 243.9,162.5 C247.1,163.5 249.1,164.0 251.3,165.5 C253.5,167.0 255.3,168.9 257.3,171.4 C259.3,173.9 261.6,177.4 263.3,180.4 C265.1,183.4 266.4,187.2 267.8,189.4 C269.2,191.7 270.0,193.7 271.5,193.9 C273.0,194.2 274.6,192.4 276.7,190.9 C278.8,189.4 281.4,186.4 284.2,184.9 C286.9,183.4 291.7,182.4 293.2,181.9 M209.9,155.0 C211.1,155.2 214.6,155.5 217.0,156.5 C219.4,157.5 221.9,159.0 224.4,161.0 C226.9,163.0 229.4,165.4 231.9,168.4 C234.4,171.4 236.9,175.2 239.4,178.9 C241.9,182.7 244.4,186.9 246.9,190.9 C249.4,194.9 253.0,200.5 254.3,202.8 C255.7,205.1 254.9,204.2 255.0,204.5 M205.0,168.4 C205.8,168.3 207.9,167.4 209.9,167.7 C211.9,167.9 214.6,168.3 217.0,169.9 C219.4,171.5 221.9,174.9 224.4,177.4 C226.9,179.9 229.7,182.2 231.9,184.9 C234.2,187.7 236.2,190.7 237.9,193.9 C239.7,197.1 241.7,202.6 242.4,204.3 M205.0,188.6 C205.8,188.7 207.4,189.5 209.9,189.4 C212.4,189.3 216.6,188.9 220.0,187.9 C223.4,186.9 227.2,185.0 230.4,183.4 C233.6,181.8 236.2,180.9 239.4,178.2 C242.6,175.5 246.8,170.1 249.8,167.0 C252.8,163.9 255.1,162.0 257.3,159.5 C259.6,157.0 262.3,153.2 263.3,152.0 M205.0,187.9 C206.5,186.9 211.3,184.4 214.0,181.9 C216.7,179.4 219.2,175.9 221.4,172.9 C223.6,169.9 225.4,166.7 227.4,164.0 C229.4,161.3 231.9,158.5 233.4,156.5 C234.9,154.5 235.9,152.8 236.4,152.0 M205.0,196.1 C205.8,196.1 207.9,196.0 209.9,196.1 C211.9,196.2 214.6,196.2 217.0,196.8 C219.4,197.4 222.4,198.6 224.4,199.8 C226.4,201.1 228.2,203.6 228.9,204.3 M205.0,198.5 C206.5,198.3 211.3,197.2 214.0,197.5 C216.7,197.8 219.4,198.9 221.4,200.0 C223.4,201.1 225.2,203.6 226.0,204.3 M269.3,204.3 C270.1,203.1 271.8,199.3 273.8,196.8 C275.8,194.3 278.7,191.5 281.2,189.4 C283.7,187.3 286.7,185.3 288.7,184.1 C290.7,182.8 292.4,182.3 293.2,181.9 M271.0,204.3 C271.8,203.3 273.5,200.7 275.5,198.5 C277.5,196.3 280.7,193.2 283.0,191.0 C285.3,188.8 287.8,186.9 289.5,185.5 C291.2,184.1 292.6,183.0 293.2,182.5"/></g>
<line x1="45.0" y1="105.4" x2="294.0" y2="105.4" stroke="#222" stroke-width="1.1"/>
<rect x="45.0" y="5.8" width="249.0" height="199.2" fill="none" stroke="#3a3a3a" stroke-width="1.4"/>
<text x="46.0" y="217.8" class="kl" text-anchor="middle">Γ</text>
<text x="93.3" y="217.8" class="kl" text-anchor="middle">X</text>
<text x="142.1" y="217.8" class="kl" text-anchor="middle">M</text>
<text x="211.0" y="217.8" class="kl" text-anchor="middle">Γ</text>
<text x="294.0" y="217.8" class="kl" text-anchor="middle">R</text>
<line x1="396.6" y1="6.5" x2="396.6" y2="205.6" stroke="#888" stroke-width="0.7" stroke-dasharray="1,1"/>
<line x1="445.3" y1="6.5" x2="445.3" y2="205.6" stroke="#888" stroke-width="0.7" stroke-dasharray="1,1"/>
<line x1="513.5" y1="6.5" x2="513.5" y2="205.6" stroke="#888" stroke-width="0.7" stroke-dasharray="1,1"/>
<line x1="348.0" y1="205.92" x2="351.2" y2="205.92" stroke="#3a3a3a" stroke-width="1"/>
<line x1="597.0" y1="205.92" x2="593.8" y2="205.92" stroke="#3a3a3a" stroke-width="1"/>
<text transform="translate(343.0,209.52) scale(0.85,1)" class="tk" text-anchor="end">-8</text>
<line x1="348.0" y1="193.48" x2="350.0" y2="193.48" stroke="#3a3a3a" stroke-width="1"/>
<line x1="597.0" y1="193.48" x2="595.0" y2="193.48" stroke="#3a3a3a" stroke-width="1"/>
<line x1="348.0" y1="181.04" x2="351.2" y2="181.04" stroke="#3a3a3a" stroke-width="1"/>
<line x1="597.0" y1="181.04" x2="593.8" y2="181.04" stroke="#3a3a3a" stroke-width="1"/>
<text transform="translate(343.0,184.64) scale(0.85,1)" class="tk" text-anchor="end">-6</text>
<line x1="348.0" y1="168.60" x2="350.0" y2="168.60" stroke="#3a3a3a" stroke-width="1"/>
<line x1="597.0" y1="168.60" x2="595.0" y2="168.60" stroke="#3a3a3a" stroke-width="1"/>
<line x1="348.0" y1="156.16" x2="351.2" y2="156.16" stroke="#3a3a3a" stroke-width="1"/>
<line x1="597.0" y1="156.16" x2="593.8" y2="156.16" stroke="#3a3a3a" stroke-width="1"/>
<text transform="translate(343.0,159.76) scale(0.85,1)" class="tk" text-anchor="end">-4</text>
<line x1="348.0" y1="143.72" x2="350.0" y2="143.72" stroke="#3a3a3a" stroke-width="1"/>
<line x1="597.0" y1="143.72" x2="595.0" y2="143.72" stroke="#3a3a3a" stroke-width="1"/>
<line x1="348.0" y1="131.28" x2="351.2" y2="131.28" stroke="#3a3a3a" stroke-width="1"/>
<line x1="597.0" y1="131.28" x2="593.8" y2="131.28" stroke="#3a3a3a" stroke-width="1"/>
<text transform="translate(343.0,134.88) scale(0.85,1)" class="tk" text-anchor="end">-2</text>
<line x1="348.0" y1="118.84" x2="350.0" y2="118.84" stroke="#3a3a3a" stroke-width="1"/>
<line x1="597.0" y1="118.84" x2="595.0" y2="118.84" stroke="#3a3a3a" stroke-width="1"/>
<line x1="348.0" y1="106.40" x2="351.2" y2="106.40" stroke="#3a3a3a" stroke-width="1"/>
<line x1="597.0" y1="106.40" x2="593.8" y2="106.40" stroke="#3a3a3a" stroke-width="1"/>
<text transform="translate(343.0,110.00) scale(0.85,1)" class="tk" text-anchor="end">0</text>
<line x1="348.0" y1="93.96" x2="350.0" y2="93.96" stroke="#3a3a3a" stroke-width="1"/>
<line x1="597.0" y1="93.96" x2="595.0" y2="93.96" stroke="#3a3a3a" stroke-width="1"/>
<line x1="348.0" y1="81.52" x2="351.2" y2="81.52" stroke="#3a3a3a" stroke-width="1"/>
<line x1="597.0" y1="81.52" x2="593.8" y2="81.52" stroke="#3a3a3a" stroke-width="1"/>
<text transform="translate(343.0,85.12) scale(0.85,1)" class="tk" text-anchor="end">2</text>
<line x1="348.0" y1="69.08" x2="350.0" y2="69.08" stroke="#3a3a3a" stroke-width="1"/>
<line x1="597.0" y1="69.08" x2="595.0" y2="69.08" stroke="#3a3a3a" stroke-width="1"/>
<line x1="348.0" y1="56.64" x2="351.2" y2="56.64" stroke="#3a3a3a" stroke-width="1"/>
<line x1="597.0" y1="56.64" x2="593.8" y2="56.64" stroke="#3a3a3a" stroke-width="1"/>
<text transform="translate(343.0,60.24) scale(0.85,1)" class="tk" text-anchor="end">4</text>
<line x1="348.0" y1="44.20" x2="350.0" y2="44.20" stroke="#3a3a3a" stroke-width="1"/>
<line x1="597.0" y1="44.20" x2="595.0" y2="44.20" stroke="#3a3a3a" stroke-width="1"/>
<line x1="348.0" y1="31.76" x2="351.2" y2="31.76" stroke="#3a3a3a" stroke-width="1"/>
<line x1="597.0" y1="31.76" x2="593.8" y2="31.76" stroke="#3a3a3a" stroke-width="1"/>
<text transform="translate(343.0,35.36) scale(0.85,1)" class="tk" text-anchor="end">6</text>
<line x1="348.0" y1="19.32" x2="350.0" y2="19.32" stroke="#3a3a3a" stroke-width="1"/>
<line x1="597.0" y1="19.32" x2="595.0" y2="19.32" stroke="#3a3a3a" stroke-width="1"/>
<line x1="348.0" y1="6.88" x2="351.2" y2="6.88" stroke="#3a3a3a" stroke-width="1"/>
<line x1="597.0" y1="6.88" x2="593.8" y2="6.88" stroke="#3a3a3a" stroke-width="1"/>
<text transform="translate(343.0,10.48) scale(0.85,1)" class="tk" text-anchor="end">8</text>
<clipPath id="cb"><rect x="348" y="6.5" width="249" height="199.1"/></clipPath><g clip-path="url(#cb)" fill="none" stroke="#23968c" stroke-width="1.25" stroke-linecap="round"><path d="M458.0,7.8 C458.9,8.7 461.2,11.7 463.5,13.3 C465.8,14.9 468.6,16.0 471.8,17.4 C475.0,18.8 479.2,20.5 482.9,21.6 C486.6,22.8 490.2,23.6 493.9,24.3 C497.6,25.0 501.7,25.4 504.9,25.7 C508.1,26.0 509.4,26.4 513.2,26.4 C517.1,26.4 525.5,25.8 528.0,25.7 M478.7,7.8 C479.9,8.7 483.1,11.5 485.6,13.3 C488.1,15.1 491.1,17.0 493.9,18.8 C496.7,20.6 499.7,22.6 502.2,24.3 C504.7,26.0 507.3,27.7 509.1,29.2 C510.9,30.7 512.5,32.6 513.2,33.3 M488.4,7.8 C489.3,8.9 491.8,12.4 493.9,14.7 C496.0,17.0 498.5,19.5 500.8,21.6 C503.1,23.7 505.6,25.2 507.7,27.1 C509.8,29.1 512.3,32.3 513.2,33.3 M491.1,7.8 C492.2,9.2 495.7,13.5 498.0,16.0 C500.3,18.5 502.8,20.8 504.9,23.0 C507.0,25.2 509.1,27.6 510.5,29.2 C511.9,30.8 512.8,32.0 513.2,32.6 M499.4,7.8 C500.3,9.2 503.3,13.2 504.9,16.0 C506.5,18.8 507.7,21.5 509.1,24.3 C510.5,27.1 512.5,31.2 513.2,32.6 M513.2,33.3 C514.1,32.0 516.9,28.1 518.7,25.7 C520.6,23.3 522.8,21.1 524.3,18.8 C525.8,16.5 527.4,13.1 528.0,11.9 M513.2,33.3 C514.4,32.5 517.6,29.8 520.1,28.5 C522.6,27.2 526.7,26.2 528.0,25.7 M445.0,34.4 C446.2,34.2 449.9,33.6 452.5,33.1 C455.1,32.6 457.9,31.9 460.7,31.5 C463.4,31.1 464.9,30.8 469.0,30.6 C473.1,30.4 478.2,30.5 485.6,30.5 C493.0,30.5 506.1,30.5 513.2,30.5 C520.3,30.5 525.5,30.5 528.0,30.5 M459.4,31.2 C461.0,30.3 466.2,27.3 469.0,25.7 C471.8,24.1 473.7,22.8 476.0,21.6 C478.3,20.5 480.8,18.8 482.9,18.8 C485.0,18.8 486.1,20.5 488.4,21.6 C490.7,22.8 493.7,24.8 496.7,25.7 C499.7,26.6 503.6,26.9 506.3,27.1 C509.1,27.3 512.1,27.1 513.2,27.1 M445.0,34.4 C446.2,34.4 450.0,34.3 452.5,34.3 C455.0,34.3 456.8,34.2 460.0,34.3 C463.2,34.4 467.5,34.5 471.8,34.7 C476.1,34.9 481.0,35.4 485.6,35.4 C490.2,35.4 494.8,35.1 499.4,34.7 C504.0,34.4 510.9,33.5 513.2,33.3 M445.0,34.4 C446.2,34.5 449.9,34.8 452.5,35.2 C455.1,35.6 457.9,36.2 460.7,36.8 C463.4,37.3 466.4,38.0 469.0,38.5 C471.6,39.0 473.2,39.4 476.0,39.8 C478.8,40.2 482.2,40.2 485.6,40.9 C489.1,41.5 493.9,43.1 496.7,43.7 C499.5,44.3 500.1,45.0 502.2,44.3 C504.3,43.6 507.3,41.1 509.1,39.5 C510.9,37.9 512.5,35.5 513.2,34.7 M513.2,33.3 C514.1,34.1 516.9,36.4 518.7,38.1 C520.6,39.8 522.8,42.3 524.3,43.7 C525.8,45.1 527.4,46.0 528.0,46.4 M448.2,6.5 C448.8,8.1 450.6,12.7 452.0,16.0 C453.4,19.3 454.9,23.5 456.4,26.4 C457.8,29.3 459.3,31.5 460.7,33.5 C462.1,35.5 463.5,36.9 464.9,38.5 C466.3,40.1 467.6,41.8 469.0,43.4 C470.4,45.0 471.9,47.1 473.1,48.4 C474.3,49.6 474.4,49.4 476.0,50.9 C477.6,52.4 481.8,56.4 482.9,57.5 M445.0,51.3 C446.2,50.9 449.9,50.0 452.5,49.2 C455.1,48.4 457.9,47.4 460.7,46.7 C463.4,46.0 466.4,45.5 469.0,45.1 C471.6,44.8 473.2,44.5 476.0,44.6 C478.8,44.8 482.2,45.4 485.6,46.0 C489.1,46.6 493.2,48.1 496.7,48.5 C500.1,48.9 503.6,48.7 506.3,48.5 C509.1,48.3 512.1,47.7 513.2,47.5 M471.8,50.6 C474.1,51.0 481.0,53.1 485.6,53.3 C490.2,53.5 494.8,53.0 499.4,51.9 C504.0,50.8 509.8,48.0 513.2,46.4 C516.7,44.8 519.0,43.0 520.1,42.3 M445.0,51.3 C446.2,51.5 449.9,52.0 452.5,52.5 C455.1,53.0 457.5,53.9 460.7,54.0 C463.9,54.1 467.6,54.1 471.8,53.3 C476.0,52.5 481.0,51.0 485.6,49.2 C490.2,47.4 495.9,44.4 499.4,42.3 C502.8,40.2 504.0,38.3 506.3,36.8 C508.6,35.3 512.1,33.9 513.2,33.3 M499.4,72.0 C501.7,71.4 508.4,68.7 513.2,68.5 C518.0,68.3 525.5,70.2 528.0,70.6 M528.0,11.9 C528.5,11.1 530.4,7.9 530.9,7.1 M520.1,28.5 C520.8,28.0 522.0,26.6 524.0,25.7 C526.0,24.8 529.5,24.6 532.3,23.0 C535.1,21.4 538.5,18.5 540.6,16.0 C542.7,13.5 544.0,9.2 544.7,7.8 M546.1,7.8 C547.0,8.7 549.3,11.2 551.6,13.3 C553.9,15.4 556.9,18.1 559.9,20.2 C562.9,22.3 566.4,24.1 569.6,25.7 C572.8,27.3 576.0,28.8 579.2,29.9 C582.4,31.0 585.9,31.9 588.9,32.6 C591.9,33.3 595.6,33.8 597.0,34.0 M554.4,7.8 C553.9,8.6 553.0,11.0 551.6,12.6 C550.2,14.2 548.4,15.7 546.1,17.4 C543.8,19.1 540.8,21.6 537.8,23.0 C534.8,24.4 530.4,25.1 528.1,25.7 C525.8,26.3 524.7,26.3 524.0,26.4 M513.2,30.5 C515.0,30.5 519.9,30.5 524.0,30.5 C528.1,30.5 533.2,30.4 537.8,30.5 C542.4,30.6 547.5,31.0 551.6,31.2 C555.8,31.4 559.7,31.2 562.7,31.9 C565.7,32.6 567.3,34.6 569.6,35.4 C571.9,36.2 573.8,36.8 576.5,36.8 C579.2,36.8 582.7,35.9 586.1,35.4 C589.5,34.9 595.2,34.2 597.0,34.0 M513.2,33.3 C515.0,33.3 519.9,33.3 524.0,33.3 C528.1,33.3 533.2,33.1 537.8,33.3 C542.4,33.5 547.0,33.9 551.6,34.7 C556.2,35.5 560.8,37.0 565.4,38.1 C570.0,39.2 573.9,40.5 579.2,41.6 C584.5,42.8 594.0,44.4 597.0,45.0 M513.2,46.0 C515.0,46.0 521.3,45.9 524.0,45.7 C526.7,45.5 527.2,46.0 529.5,45.0 C531.8,44.0 535.0,41.3 537.8,39.5 C540.6,37.7 543.8,35.3 546.1,34.0 C548.4,32.7 549.1,32.2 551.6,31.9 C554.1,31.5 559.0,31.8 561.3,31.9 C563.6,32.0 563.6,31.9 565.4,32.6 C567.2,33.3 569.5,35.8 572.3,36.1 C575.1,36.5 577.9,35.1 582.0,34.7 C586.1,34.4 594.5,34.1 597.0,34.0 M524.0,51.9 C526.3,51.0 533.2,47.7 537.8,46.4 C542.4,45.1 547.5,44.5 551.6,44.3 C555.8,44.1 559.2,44.6 562.7,45.0 C566.2,45.4 569.1,46.3 572.3,46.4 C575.5,46.5 577.9,46.1 582.0,45.7 C586.1,45.4 594.5,44.5 597.0,44.3 M524.0,50.6 C525.4,51.3 529.5,53.3 532.3,54.7 C535.1,56.1 537.8,57.9 540.6,58.8 C543.4,59.7 545.9,60.3 548.9,60.2 C551.9,60.1 555.3,59.2 558.5,58.1 C561.7,57.0 564.8,54.8 568.2,53.3 C571.7,51.8 574.4,50.6 579.2,49.2 C584.0,47.8 594.0,45.7 597.0,45.0 M555.8,63.0 C556.7,61.6 559.2,57.0 561.3,54.7 C563.4,52.4 566.4,49.9 568.2,49.2 C570.0,48.5 570.9,49.5 572.3,50.6 C573.7,51.8 574.9,54.0 576.5,56.1 C578.1,58.2 580.4,61.4 582.0,63.0 C583.6,64.6 583.6,65.2 586.1,65.7 C588.6,66.2 595.2,65.7 597.0,65.7 M551.6,72.0 C552.5,70.0 555.0,63.8 557.1,60.2 C559.2,56.6 561.9,52.4 564.0,50.6 C566.1,48.8 568.7,49.4 569.6,49.2 M524.0,62.3 C528.6,62.2 542.4,61.7 551.6,61.6 C560.8,61.5 571.6,61.6 579.2,61.6 C586.8,61.6 594.0,61.6 597.0,61.6 M524.0,63.0 C528.6,63.0 542.4,62.8 551.6,63.0 C560.8,63.2 573.5,63.8 579.2,64.4 C585.0,65.0 583.1,66.0 586.1,66.4 C589.1,66.9 595.2,67.0 597.0,67.1 M565.4,72.0 C567.7,71.5 573.9,69.8 579.2,69.2 C584.5,68.6 594.0,68.6 597.0,68.5 M478.0,74.7 C479.9,74.5 485.7,74.3 489.6,73.6 C493.5,72.9 497.3,71.5 501.3,70.7 C505.3,69.9 509.6,68.5 513.5,68.6 C517.4,68.7 520.7,70.3 524.5,71.2 C528.3,72.1 532.2,73.5 536.1,74.1 C540.0,74.7 546.0,74.6 548.0,74.7 M470.1,77.6 C471.4,77.5 473.9,77.3 478.0,77.3 C482.1,77.2 489.1,77.3 495.0,77.3 C500.9,77.3 507.7,77.3 513.5,77.3 C519.3,77.3 524.2,77.3 530.0,77.3 C535.8,77.3 545.0,77.3 548.0,77.3 M478.0,78.0 C479.9,78.0 483.7,78.3 489.6,78.2 C495.5,78.1 507.7,77.5 513.5,77.6 C519.3,77.7 520.7,78.4 524.5,78.8 C528.3,79.2 532.2,79.6 536.1,80.0 C540.0,80.4 546.0,80.9 548.0,81.1 M478.0,104.4 C479.0,103.4 482.1,100.5 484.0,98.6 C485.9,96.6 487.1,95.2 489.6,92.7 C492.1,90.2 496.2,85.6 498.9,83.4 C501.6,81.2 503.5,80.4 505.9,79.4 C508.3,78.4 511.0,77.5 513.5,77.6 C516.0,77.7 518.8,78.6 521.0,80.0 C523.2,81.4 525.0,83.7 526.8,85.8 C528.5,87.9 530.0,90.2 531.5,92.7 C533.0,95.2 534.8,98.4 536.1,100.9 C537.5,103.4 538.4,105.4 539.6,107.9 C540.8,110.4 542.5,114.7 543.1,116.0 M498.9,100.9 C500.3,100.2 504.7,97.6 507.1,96.8 C509.5,96.0 511.2,96.1 513.5,96.2 C515.8,96.3 518.6,96.6 521.0,97.4 C523.4,98.2 526.8,100.3 528.0,100.9 M495.0,97.0 C495.6,97.3 496.9,97.9 498.9,98.6 C500.9,99.2 504.7,100.3 507.1,100.9 C509.5,101.5 511.2,102.0 513.5,102.0 C515.8,102.0 518.6,101.5 521.0,100.9 C523.4,100.3 526.0,99.4 528.0,98.6 C530.0,97.8 532.2,96.4 533.0,96.0 M478.0,73.0 C479.2,74.2 482.7,77.5 485.0,80.0 C487.3,82.5 489.9,85.7 492.0,88.0 C494.1,90.3 495.7,92.0 497.8,93.9 C499.9,95.9 502.8,98.2 504.7,99.7 C506.6,101.2 508.3,102.5 509.0,103.0 M522.2,103.2 C523.8,101.5 528.0,96.4 531.5,92.7 C535.0,89.0 540.4,83.5 543.1,81.1 C545.9,78.7 547.2,78.7 548.0,78.2 M532.7,106.5 C533.7,105.6 536.8,102.8 538.5,100.9 C540.2,99.0 541.5,97.0 543.1,95.1 C544.7,93.2 547.2,90.3 548.0,89.3 M533.8,106.5 C534.8,107.5 538.0,110.9 539.6,112.5 C541.2,114.1 542.5,115.4 543.1,116.0 M540.0,74.2 C542.6,74.0 550.4,73.7 555.5,73.2 C560.6,72.7 566.3,71.8 570.9,71.2 C575.5,70.6 578.9,69.7 583.3,69.6 C587.6,69.5 594.7,70.4 597.0,70.6 M540.0,76.3 C541.7,76.0 546.9,75.3 550.3,74.8 C553.7,74.3 557.2,73.6 560.6,73.2 C564.0,72.8 567.1,72.5 570.9,72.2 C574.7,71.9 580.5,71.3 583.3,71.2 C586.0,71.1 586.0,71.0 587.4,71.7 C588.8,72.4 589.9,74.5 591.5,75.3 C593.1,76.1 596.1,76.1 597.0,76.3 M540.0,79.4 C541.7,79.3 546.9,79.2 550.3,78.9 C553.7,78.6 557.2,77.9 560.6,77.3 C564.0,76.7 567.5,76.0 570.9,75.3 C574.3,74.6 578.5,73.6 581.2,73.2 C584.0,72.8 584.8,73.0 587.4,72.7 C590.0,72.4 595.4,71.5 597.0,71.2 M540.0,81.1 C541.7,80.8 546.9,80.0 550.3,79.5 C553.7,79.0 557.2,78.4 560.6,77.8 C564.0,77.2 567.5,76.5 570.9,75.8 C574.3,75.1 579.5,74.0 581.2,73.7 M553.4,66.0 C552.9,67.0 551.5,69.6 550.3,72.2 C549.1,74.8 547.4,78.9 546.2,81.5 C545.0,84.1 544.1,85.7 543.1,87.6 C542.1,89.5 541.2,91.2 540.0,92.8 C538.8,94.4 536.7,96.3 536.0,97.0 M554.4,116.0 C555.1,114.2 557.0,108.7 558.6,105.2 C560.2,101.7 562.0,98.0 563.7,94.9 C565.4,91.8 567.2,89.2 568.9,86.6 C570.6,84.0 572.3,81.3 574.0,79.4 C575.7,77.5 577.1,76.4 579.2,75.3 C581.3,74.2 583.4,73.3 586.4,72.7 C589.4,72.1 595.2,71.9 597.0,71.7 M540.0,109.3 C540.7,109.8 542.7,111.3 544.1,112.4 C545.5,113.5 547.5,115.4 548.2,116.0 M583.0,66.5 C585.3,66.5 594.7,66.3 597.0,66.3 M452.0,93.5 C453.3,93.9 457.1,94.7 460.0,95.8 C462.9,96.9 466.1,98.8 469.1,100.3 C472.1,101.8 475.1,103.2 478.1,104.9 C481.1,106.6 484.5,108.5 487.2,110.3 C489.9,112.1 492.3,113.9 494.5,115.8 C496.7,117.7 498.6,119.4 500.5,121.5 C502.4,123.6 503.7,126.7 505.9,128.5 C508.1,130.3 511.0,132.3 513.5,132.5 C516.0,132.7 518.8,131.6 521.0,129.6 C523.2,127.6 525.0,123.4 526.8,120.3 C528.5,117.2 530.3,113.3 531.5,111.0 C532.7,108.7 533.2,107.5 533.8,106.3 C534.4,105.1 534.8,104.4 535.0,104.0 M513.5,145.3 C514.8,146.0 518.8,147.9 521.0,149.3 C523.2,150.8 525.0,152.2 526.8,154.0 C528.5,155.8 530.7,159.0 531.5,160.0 M513.5,145.8 C515.0,146.8 519.8,149.3 522.2,151.7 C524.6,154.1 527.0,158.6 528.0,160.0 M531.5,106.3 C532.3,107.1 534.4,109.5 536.1,111.0 C537.9,112.5 540.0,114.2 542.0,115.6 C544.0,116.9 547.0,118.5 548.0,119.1 M537.3,106.3 C537.9,107.8 539.6,112.1 540.8,115.6 C542.0,119.1 543.3,123.4 544.3,127.3 C545.3,131.2 546.0,135.0 546.6,138.9 C547.2,142.8 547.8,148.6 548.0,150.5 M548.0,138.9 C547.4,140.4 545.5,144.7 544.3,148.2 C543.1,151.7 541.4,158.0 540.8,160.0 M536.1,106.3 C536.8,107.1 538.2,109.4 540.0,110.9 C541.8,112.4 544.0,113.8 546.9,115.5 C549.8,117.2 553.6,119.6 557.3,121.3 C560.9,123.0 564.9,124.6 568.8,125.9 C572.6,127.2 575.7,128.4 580.4,129.4 C585.1,130.4 594.2,131.3 597.0,131.7 M558.5,104.0 C557.9,105.5 556.2,110.1 555.0,113.2 C553.8,116.3 552.6,119.2 551.5,122.5 C550.4,125.8 549.2,129.5 548.1,132.8 C547.0,136.1 546.0,138.4 544.6,142.1 C543.2,145.8 541.1,151.8 540.0,154.8 C538.9,157.8 538.3,159.1 538.0,160.0 M537.3,104.0 C537.8,104.8 538.8,106.3 540.0,108.6 C541.2,110.9 543.1,114.3 544.6,117.8 C546.1,121.3 547.7,125.9 549.2,129.4 C550.7,132.9 552.1,136.1 553.8,138.6 C555.5,141.1 557.1,143.2 559.6,144.4 C562.1,145.7 565.9,146.0 568.8,146.1 C571.7,146.2 574.4,146.1 576.9,145.0 C579.4,143.9 581.5,141.4 583.8,139.8 C586.1,138.2 588.6,136.5 590.8,135.2 C593.0,133.8 596.0,132.3 597.0,131.7 M567.7,160.0 C568.9,158.4 572.3,153.2 574.6,150.2 C576.9,147.2 579.2,144.4 581.5,142.1 C583.8,139.8 585.9,138.0 588.5,136.3 C591.1,134.6 595.6,132.5 597.0,131.7 M578.0,144.4 C579.3,143.2 583.7,139.3 586.0,137.5 C588.3,135.7 590.2,134.8 592.0,133.8 C593.8,132.8 596.2,132.0 597.0,131.7 M540.0,147.3 C541.1,147.4 544.8,147.1 546.9,147.8 C549.0,148.5 551.0,149.3 552.7,151.3 C554.4,153.3 556.5,158.6 557.3,160.0 M505.0,151.0 C504.8,151.5 504.6,151.9 503.6,154.0 C502.6,156.1 500.4,160.0 498.9,163.3 C497.3,166.6 495.6,170.3 494.3,173.8 C493.0,177.3 492.0,180.9 490.8,184.2 C489.6,187.5 488.5,190.0 487.3,193.5 C486.1,197.0 484.4,203.2 483.8,205.2 M524.5,154.0 C525.3,155.2 527.5,158.1 529.2,161.0 C531.0,163.9 533.3,167.7 535.0,171.4 C536.7,175.1 538.1,179.4 539.6,183.1 C541.1,186.8 542.9,190.6 544.3,193.5 C545.7,196.4 547.4,199.3 548.0,200.5 M526.8,154.0 C527.6,155.2 530.0,158.7 531.5,161.0 C533.0,163.3 534.8,165.3 536.1,168.0 C537.5,170.7 538.4,173.8 539.6,177.3 C540.8,180.8 541.9,185.0 543.1,188.9 C544.3,192.8 545.8,198.2 546.6,200.5 C547.4,202.8 547.8,202.6 548.0,203.0 M522.2,201.7 C523.2,200.3 526.2,196.6 528.0,193.5 C529.8,190.4 531.2,186.8 532.7,183.1 C534.2,179.4 535.8,176.2 537.3,171.4 C538.8,166.6 541.2,156.9 542.0,154.0 M513.5,201.7 C515.0,201.8 519.4,202.1 522.2,202.3 C525.0,202.5 527.4,203.1 530.3,202.8 C533.2,202.5 537.1,201.5 539.6,200.5 C542.1,199.5 544.0,198.0 545.4,197.0 C546.8,196.0 547.6,195.1 548.0,194.7 M478.0,191.2 C479.0,192.0 481.5,194.2 483.8,195.9 C486.1,197.7 489.1,200.1 492.0,201.7 C494.9,203.2 499.8,204.6 501.3,205.2 M552.0,150.0 C552.4,150.7 553.5,152.2 554.5,154.0 C555.5,155.8 556.7,158.3 557.8,160.7 C558.9,163.1 560.1,165.9 561.2,168.5 C562.3,171.1 563.4,173.7 564.5,176.3 C565.6,178.9 566.7,182.2 567.8,184.1 C568.9,185.9 569.9,187.2 571.2,187.4 C572.5,187.6 573.9,187.2 575.6,185.2 C577.3,183.2 579.3,178.2 581.2,175.2 C583.1,172.2 584.9,169.4 586.8,167.4 C588.6,165.4 590.6,163.9 592.3,162.9 C594.0,161.9 596.2,161.5 597.0,161.2 M574.0,186.0 C574.8,185.0 576.9,182.3 578.5,180.0 C580.1,177.7 581.6,174.4 583.4,172.0 C585.1,169.6 586.7,167.3 589.0,165.5 C591.3,163.7 595.7,161.9 597.0,161.2 M566.7,205.4 C567.6,203.7 570.4,198.8 572.3,195.2 C574.2,191.6 576.0,187.6 577.9,184.1 C579.8,180.6 581.5,177.0 583.4,174.0 C585.2,171.0 586.7,168.3 589.0,166.2 C591.3,164.1 595.7,162.0 597.0,161.2 M573.0,151.0 C572.7,151.5 572.4,152.4 571.2,154.0 C570.0,155.6 567.3,158.3 565.6,160.7 C563.9,163.1 563.1,165.7 561.2,168.5 C559.4,171.3 556.7,174.2 554.5,177.4 C552.3,180.6 549.7,184.8 547.8,187.4 C545.9,190.0 544.6,191.5 543.3,193.0 C542.0,194.5 541.2,195.2 540.0,196.3 C538.8,197.4 536.7,199.0 536.0,199.5 M540.0,172.9 C540.5,173.8 542.0,176.1 543.3,178.5 C544.6,180.9 546.3,184.4 547.8,187.4 C549.3,190.4 550.7,193.3 552.2,196.3 C553.7,199.3 556.0,203.9 556.7,205.4 M540.0,185.2 C540.5,186.3 542.2,189.7 543.3,191.9 C544.4,194.1 545.8,196.2 546.7,198.5 C547.6,200.8 548.5,204.2 548.9,205.4 M348.7,31.9 C350.5,32.0 355.5,32.4 359.6,32.8 C363.7,33.2 369.1,33.7 373.2,34.2 C377.3,34.7 380.2,35.4 384.1,36.0 C388.0,36.6 392.9,37.1 396.4,37.8 C399.9,38.4 402.2,39.2 405.1,39.9 C408.1,40.5 411.1,41.1 414.1,41.7 C417.1,42.3 420.2,42.7 423.2,43.5 C426.2,44.3 429.6,45.7 432.3,46.7 C435.0,47.7 437.5,48.6 439.6,49.4 C441.7,50.2 444.1,51.0 445.0,51.3 M348.7,32.8 C350.1,33.2 353.6,34.1 356.9,35.1 C360.2,36.1 364.8,37.5 368.7,38.7 C372.6,39.9 377.0,41.2 380.5,42.3 C384.0,43.4 387.0,44.4 389.6,45.5 C392.2,46.6 394.7,48.0 396.4,48.7 C398.1,49.5 399.4,49.8 400.0,50.0 M348.7,34.2 C349.5,35.1 351.8,37.8 353.3,39.6 C354.8,41.4 356.3,43.4 357.8,45.1 C359.3,46.8 360.5,48.2 362.3,49.6 C364.1,51.0 366.6,52.0 368.7,53.2 C370.8,54.4 372.7,55.8 375.0,56.9 C377.3,58.0 379.9,59.0 382.3,59.6 C384.7,60.2 387.2,60.2 389.6,60.5 C392.0,60.8 395.3,61.2 396.4,61.4 M376.0,26.0 C376.1,26.3 376.3,26.6 376.9,27.8 C377.5,29.0 378.6,31.5 379.6,33.3 C380.7,35.1 381.9,36.9 383.2,38.7 C384.5,40.5 386.2,42.6 387.7,44.1 C389.2,45.6 390.9,46.7 392.3,47.8 C393.8,48.9 395.1,49.9 396.4,50.5 C397.7,51.1 399.4,51.2 400.0,51.4 M389.8,26.0 C389.6,26.3 389.6,26.4 388.6,27.8 C387.7,29.2 385.6,32.2 384.1,34.2 C382.6,36.2 381.3,37.8 379.6,39.6 C377.9,41.4 376.1,43.6 374.1,45.1 C372.1,46.6 369.9,47.7 367.8,48.7 C365.7,49.8 363.5,50.4 361.4,51.4 C359.3,52.4 357.2,54.0 355.1,55.0 C353.0,56.0 349.8,56.9 348.7,57.3 M348.7,56.9 C349.6,56.3 352.0,54.6 354.0,53.5 C356.0,52.4 358.3,51.4 360.5,50.5 C362.7,49.6 364.9,48.6 367.0,48.0 C369.1,47.4 370.9,46.9 373.2,46.9 C375.4,46.9 377.8,47.0 380.5,47.8 C383.2,48.5 387.0,50.3 389.6,51.4 C392.2,52.5 395.3,53.6 396.4,54.1 M348.7,63.2 C350.5,63.1 355.5,62.6 359.6,62.3 C363.7,62.0 369.4,61.8 373.2,61.4 C377.0,61.0 379.3,60.8 382.3,60.0 C385.3,59.2 389.0,58.0 391.4,56.9 C393.8,55.8 395.0,54.3 396.4,53.2 C397.8,52.1 399.4,51.0 400.0,50.5 M348.7,63.7 C351.2,63.7 358.8,63.6 364.0,63.5 C369.2,63.4 374.6,63.3 380.0,63.2 C385.4,63.1 393.7,63.0 396.4,63.0 M376.0,70.0 C376.8,69.2 379.0,66.6 380.5,65.0 C382.0,63.4 383.5,61.9 385.0,60.5 C386.5,59.1 387.7,58.1 389.6,56.9 C391.5,55.7 395.3,53.8 396.4,53.2 M359.6,46.9 C360.4,47.8 362.3,50.6 364.1,52.3 C365.9,54.0 368.2,55.8 370.5,56.9 C372.8,58.0 375.1,58.1 377.8,58.7 C380.5,59.3 383.7,60.0 386.8,60.5 C389.9,61.0 394.8,61.2 396.4,61.4 M348.7,32.0 C349.1,31.5 350.3,29.8 351.0,29.0 C351.7,28.2 352.7,27.3 353.0,27.0 M348.7,32.5 C349.2,32.1 350.9,30.8 352.0,30.0 C353.1,29.2 354.5,28.3 355.0,28.0 M348.7,69.0 C349.8,69.2 352.8,69.2 355.1,69.9 C357.4,70.6 359.9,71.8 362.3,73.1 C364.7,74.4 367.3,76.2 369.6,77.6 C371.9,78.9 373.5,80.1 375.9,81.2 C378.3,82.3 381.5,83.4 384.1,84.0 C386.7,84.6 389.3,84.7 391.4,84.9 C393.5,85.1 395.4,85.3 396.8,85.3 C398.2,85.3 399.5,85.0 400.0,84.9 M348.7,77.6 C350.5,77.6 356.3,77.6 359.6,77.6 C362.9,77.6 365.7,77.8 368.7,77.6 C371.7,77.4 374.8,77.0 377.8,76.7 C380.8,76.4 383.6,76.0 386.8,75.8 C390.0,75.6 393.8,75.8 396.8,75.8 C399.9,75.8 402.2,75.9 405.1,75.8 C408.0,75.7 411.1,75.3 414.1,74.9 C417.1,74.5 420.9,73.8 423.2,73.5 C425.5,73.2 425.5,72.9 427.8,73.1 C430.1,73.3 433.9,74.2 436.8,74.9 C439.7,75.6 442.8,76.6 445.0,77.2 C447.2,77.8 449.2,78.3 450.0,78.5 M348.7,78.0 C350.2,78.2 354.8,78.6 358.0,79.0 C361.2,79.4 365.0,80.0 368.0,80.5 C371.0,81.0 373.3,81.3 376.0,81.8 C378.7,82.3 381.3,83.0 384.0,83.5 C386.7,84.0 389.9,84.7 392.0,85.0 C394.1,85.3 396.0,85.2 396.8,85.3 M348.7,102.1 C349.8,101.3 353.0,99.6 355.1,97.6 C357.2,95.6 359.4,92.7 361.4,90.3 C363.4,87.9 365.1,85.5 366.9,83.1 C368.7,80.7 370.6,78.1 372.3,75.8 C374.0,73.5 375.4,71.4 376.9,69.4 C378.4,67.4 380.0,65.5 381.4,64.0 C382.8,62.5 384.4,61.1 385.0,60.5 M348.7,78.5 C349.8,79.1 353.1,80.7 355.1,82.1 C357.1,83.5 358.7,85.0 360.5,86.7 C362.3,88.4 364.2,90.3 366.0,92.1 C367.8,93.9 369.7,95.8 371.4,97.6 C373.1,99.4 374.8,101.6 376.0,103.0 C377.2,104.4 378.2,105.7 378.7,106.2 M355.1,79.4 C356.6,80.2 361.7,82.6 364.1,84.0 C366.5,85.4 367.8,86.1 369.6,87.6 C371.4,89.1 373.2,90.9 375.0,93.0 C376.8,95.1 379.0,98.1 380.5,100.3 C382.0,102.5 383.5,105.2 384.1,106.2 M368.7,79.4 C369.8,80.5 372.7,83.8 375.0,85.8 C377.3,87.8 380.0,89.4 382.3,91.2 C384.6,93.0 386.6,95.3 388.6,96.7 C390.6,98.1 392.7,98.8 394.1,99.4 C395.5,100.0 396.4,100.2 396.8,100.3 M348.7,95.8 C351.3,95.9 359.2,96.0 364.1,96.2 C369.0,96.4 374.0,96.8 377.8,97.1 C381.6,97.4 383.6,97.6 386.8,98.0 C390.0,98.4 395.1,99.2 396.8,99.4 M348.7,100.3 C351.3,100.3 359.2,100.3 364.1,100.3 C369.0,100.3 374.0,100.3 377.8,100.3 C381.6,100.3 383.6,100.3 386.8,100.3 C390.0,100.3 393.8,100.4 396.8,100.3 C399.9,100.2 402.2,99.9 405.1,99.4 C408.0,99.0 411.1,98.1 414.1,97.6 C417.1,97.1 420.2,96.6 423.2,96.2 C426.2,95.8 429.3,95.6 432.3,95.3 C435.3,95.0 438.4,94.6 441.4,94.4 C444.3,94.2 448.6,94.0 450.0,93.9 M348.7,97.6 C349.5,97.9 351.5,98.7 353.3,99.4 C355.1,100.2 357.5,101.0 359.6,102.1 C361.7,103.2 364.9,105.5 366.0,106.2 M386.0,106.5 C386.9,105.8 389.7,103.5 391.5,102.5 C393.3,101.5 395.9,100.7 396.8,100.3 M396.8,85.3 C397.3,84.8 398.9,82.8 400.0,82.0 C401.1,81.2 401.6,81.2 403.3,80.3 C405.1,79.4 407.9,77.8 410.5,76.7 C413.1,75.7 416.1,74.7 418.7,74.0 C421.3,73.3 424.7,72.8 425.9,72.6 M396.8,85.3 C398.2,85.5 402.2,85.8 405.1,86.2 C408.0,86.6 411.1,87.1 414.1,87.6 C417.1,88.1 420.2,88.7 423.2,89.4 C426.2,90.1 429.3,91.0 432.3,91.7 C435.3,92.4 438.4,93.1 441.4,93.5 C444.3,93.9 448.6,93.8 450.0,93.9 M396.8,85.3 C397.4,86.0 399.1,87.8 400.5,89.4 C401.9,91.0 403.6,92.9 405.1,94.9 C406.6,96.9 408.2,99.3 409.6,101.2 C411.0,103.1 412.6,105.6 413.2,106.5 M396.8,100.3 C397.6,99.8 399.7,98.8 401.4,97.6 C403.1,96.4 405.1,94.8 406.9,93.0 C408.7,91.2 410.5,88.7 412.3,86.7 C414.1,84.7 416.0,83.2 417.8,81.2 C419.6,79.2 422.3,76.0 423.2,74.9 M414.1,106.5 C414.9,105.5 416.9,102.7 418.7,100.3 C420.5,97.9 422.7,94.7 425.0,92.1 C427.3,89.5 429.9,87.0 432.3,84.9 C434.7,82.8 437.5,80.7 439.6,79.4 C441.7,78.1 443.3,78.0 445.0,77.2 C446.7,76.5 449.2,75.3 450.0,74.9 M396.0,75.8 C397.5,75.7 402.1,75.2 405.1,74.9 C408.1,74.6 411.1,74.3 414.1,74.0 C417.1,73.7 420.2,73.4 423.2,73.1 C426.2,72.8 429.3,72.5 432.3,72.2 C435.3,71.9 438.4,71.5 441.4,71.3 C444.3,71.1 448.6,70.9 450.0,70.8 M445.0,77.2 C445.8,78.0 449.2,81.3 450.0,82.1 M410.5,28.1 C411.9,28.6 415.8,30.4 418.7,31.3 C421.6,32.2 424.8,33.0 427.8,33.5 C430.8,34.0 433.9,34.1 436.8,34.2 C439.7,34.4 443.6,34.4 445.0,34.4 M412.3,28.1 C413.8,28.6 418.4,30.1 421.4,30.8 C424.4,31.6 427.5,32.1 430.5,32.6 C433.5,33.1 437.2,33.5 439.6,33.8 C442.0,34.1 444.1,34.3 445.0,34.4 M396.4,51.2 C397.5,50.8 400.9,49.9 403.3,48.5 C405.7,47.1 408.1,45.1 410.5,43.1 C412.9,41.1 415.7,38.5 417.8,36.7 C419.9,34.9 421.7,33.6 423.2,32.2 C424.7,30.8 426.1,29.1 426.9,28.1 C427.7,27.1 427.8,26.4 428.0,26.0 M396.4,38.5 C397.8,38.7 402.2,39.0 405.1,39.5 C408.1,40.0 410.3,40.7 414.1,41.2 C417.9,41.7 424.0,42.2 427.8,42.6 C431.6,43.0 433.9,43.1 436.8,43.5 C439.7,43.9 442.4,44.7 445.0,44.7 C447.6,44.7 449.9,43.9 452.5,43.4 C455.1,42.9 457.9,42.3 460.7,41.8 C463.4,41.2 466.4,40.5 469.0,40.1 C471.6,39.7 474.8,39.4 476.0,39.3 M396.4,51.2 C397.8,51.1 402.2,50.9 405.1,50.8 C408.1,50.6 411.1,50.5 414.1,50.3 C417.1,50.1 420.2,49.8 423.2,49.4 C426.2,49.0 429.6,48.2 432.3,47.6 C435.0,47.0 437.5,46.1 439.6,45.8 C441.7,45.4 442.9,45.4 445.0,45.5 C447.1,45.6 449.9,46.1 452.5,46.7 C455.1,47.3 457.9,48.4 460.7,49.2 C463.4,50.0 466.4,51.0 469.0,51.7 C471.6,52.4 474.8,53.0 476.0,53.3 M396.4,55.3 C398.6,55.3 405.1,55.4 409.6,55.3 C414.1,55.2 418.7,55.3 423.2,54.9 C427.7,54.5 433.2,53.6 436.8,53.0 C440.4,52.4 443.6,51.6 445.0,51.3 M396.4,55.8 C397.8,56.2 402.2,57.7 405.1,58.5 C408.1,59.3 411.1,60.1 414.1,60.8 C417.1,61.5 420.2,62.1 423.2,62.6 C426.2,63.1 428.7,63.6 432.3,63.9 C435.9,64.2 442.1,64.4 445.0,64.4 C447.9,64.4 449.2,64.0 450.0,63.9 M396.4,63.2 C399.3,63.2 408.1,63.2 414.0,63.2 C419.9,63.2 426.8,63.4 432.0,63.5 C437.2,63.6 442.0,63.8 445.0,63.9 C448.0,64.0 449.2,63.9 450.0,63.9 M396.4,64.2 C400.3,64.2 411.9,64.0 420.0,64.0 C428.1,64.0 440.0,64.2 445.0,64.2 C450.0,64.2 449.2,64.3 450.0,64.3 M446.0,52.4 C448.0,52.6 454.0,53.1 458.0,53.6 C462.0,54.1 465.9,54.8 469.9,55.4 C473.9,56.0 477.9,56.9 481.9,57.2 C485.9,57.5 489.9,57.5 493.9,57.2 C497.9,56.9 502.1,55.8 505.8,55.4 C509.5,55.0 512.3,55.1 516.0,54.8 C519.7,54.4 526.0,53.5 528.0,53.3 M446.0,64.4 C448.0,64.3 454.0,64.1 458.0,63.8 C462.0,63.5 465.9,62.9 469.9,62.6 C473.9,62.3 477.9,62.0 481.9,62.0 C485.9,62.0 489.9,62.4 493.9,62.6 C497.9,62.8 502.1,63.1 505.8,63.2 C509.5,63.3 512.3,63.2 516.0,63.2 C519.7,63.2 526.0,63.0 528.0,63.0 M445.0,45.1 C446.2,45.8 450.3,48.0 452.5,49.2 C454.7,50.4 456.1,51.2 458.0,52.5 C459.9,53.8 462.0,55.2 464.0,57.2 C466.0,59.2 467.9,61.8 469.9,64.4 C471.9,67.0 473.9,70.1 475.9,72.7 C477.9,75.3 479.9,77.5 481.9,79.9 C483.9,82.3 485.9,84.7 487.9,87.1 C489.9,89.5 491.9,92.1 493.9,94.3 C495.9,96.5 497.8,98.7 499.8,100.3 C501.8,101.9 503.6,102.8 505.8,103.8 C508.0,104.8 511.3,105.7 513.0,106.2 C514.7,106.7 515.5,106.9 516.0,107.0 M446.0,70.9 C448.0,71.0 454.0,71.2 458.0,71.5 C462.0,71.8 465.9,72.3 469.9,72.7 C473.9,73.1 477.9,73.8 481.9,73.9 C485.9,74.0 489.9,73.8 493.9,73.3 C497.9,72.8 502.1,71.7 505.8,70.9 C509.5,70.1 514.3,68.9 516.0,68.5 M446.0,77.5 C448.0,77.4 454.0,77.1 458.0,76.9 C462.0,76.7 465.9,76.3 469.9,76.3 C473.9,76.3 477.9,76.6 481.9,76.9 C485.9,77.2 489.9,77.8 493.9,78.1 C497.9,78.4 502.1,78.6 505.8,78.7 C509.5,78.8 514.3,78.7 516.0,78.7 M446.0,77.5 C447.0,78.5 450.0,81.3 452.0,83.5 C454.0,85.7 456.4,88.3 458.0,90.7 C459.6,93.1 460.6,95.3 461.6,97.9 C462.6,100.5 463.6,104.8 464.0,106.2 M446.0,94.3 C448.0,93.7 454.0,91.9 458.0,90.7 C462.0,89.5 465.9,88.3 469.9,87.1 C473.9,85.9 477.9,84.7 481.9,83.5 C485.9,82.3 489.9,80.8 493.9,79.9 C497.9,79.0 502.1,78.5 505.8,78.1 C509.5,77.7 514.3,77.6 516.0,77.5 M446.0,95.5 C448.0,95.2 454.0,94.3 458.0,93.7 C462.0,93.1 465.9,92.5 469.9,91.9 C473.9,91.3 477.9,91.1 481.9,90.1 C485.9,89.1 490.9,87.2 493.9,85.9 C496.9,84.6 499.0,82.7 500.0,82.0 M493.9,89.5 C494.9,90.7 497.8,94.9 499.8,96.7 C501.8,98.5 503.6,99.5 505.8,100.3 C508.0,101.1 511.8,101.3 513.0,101.5 M503.4,100.3 C504.4,99.7 507.3,97.5 509.4,96.7 C511.5,95.9 514.9,95.7 516.0,95.5 M346.0,132.5 C346.5,132.5 347.7,132.7 348.8,132.4 C349.9,132.1 350.9,131.9 352.7,130.7 C354.5,129.5 356.8,127.0 359.4,125.2 C362.0,123.4 365.3,121.5 368.3,119.6 C371.3,117.7 374.8,115.6 377.2,114.0 C379.6,112.4 380.8,111.4 382.7,110.1 C384.6,108.8 386.8,107.2 388.3,106.2 C389.8,105.2 391.1,104.4 391.7,104.0 M346.0,145.3 C346.5,145.3 346.9,145.2 348.8,145.2 C350.7,145.2 353.9,145.8 357.1,145.2 C360.4,144.6 364.6,143.4 368.3,141.9 C372.0,140.4 375.7,138.4 379.4,136.3 C383.1,134.2 387.7,131.3 390.5,129.6 C393.3,127.9 394.9,126.9 396.4,126.3 C397.9,125.7 398.2,125.5 399.6,125.7 C401.1,125.9 403.2,126.4 405.1,127.4 C407.0,128.4 408.8,130.1 410.7,131.8 C412.6,133.5 414.4,135.4 416.3,137.4 C418.2,139.4 420.0,141.9 421.8,144.1 C423.6,146.3 425.7,148.5 427.4,150.8 C429.1,153.1 430.5,156.0 431.9,158.0 C433.3,160.0 435.3,162.2 436.0,163.0 M363.8,104.0 C364.6,104.4 366.6,105.3 368.3,106.2 C370.0,107.1 371.8,108.3 373.8,109.6 C375.8,110.9 378.3,112.3 380.5,114.0 C382.7,115.7 385.1,117.7 387.2,119.6 C389.2,121.5 391.3,123.5 392.8,125.2 C394.3,126.9 394.7,129.0 396.4,129.6 C398.1,130.2 400.9,127.8 402.9,128.5 C404.9,129.2 406.8,131.9 408.5,134.1 C410.2,136.3 411.6,139.3 412.9,141.9 C414.2,144.5 415.2,147.0 416.3,149.7 C417.4,152.4 418.7,156.1 419.6,158.0 C420.5,159.9 420.5,158.7 421.8,160.9 C423.1,163.2 425.7,170.2 427.4,171.5 C429.1,172.8 430.4,170.3 431.9,168.7 C433.4,167.1 434.8,164.2 436.3,162.0 C437.8,159.8 439.7,157.0 440.8,155.3 C441.9,153.6 442.6,152.6 443.0,152.0 M377.2,104.0 C377.8,104.8 379.2,106.8 380.5,108.5 C381.8,110.2 383.5,112.0 385.0,114.0 C386.5,116.0 387.9,118.5 389.4,120.7 C390.9,122.9 392.7,125.6 393.9,127.4 C395.1,129.2 395.1,132.2 396.4,131.8 C397.7,131.4 400.0,127.8 401.8,125.2 C403.6,122.6 405.5,119.0 407.4,116.2 C409.2,113.4 411.8,110.1 412.9,108.5 C414.0,106.9 413.1,105.7 414.0,106.8 C414.9,107.9 417.0,112.2 418.5,115.1 C420.0,118.0 421.5,121.0 423.0,124.0 C424.5,127.0 425.7,130.0 427.4,133.0 C429.1,136.0 431.1,139.1 433.0,141.9 C434.9,144.7 436.8,147.5 438.5,149.7 C440.2,151.9 441.9,153.9 443.0,155.2 C444.1,156.5 445.0,157.1 445.4,157.5 M381.6,104.0 C382.2,104.9 383.9,107.8 385.0,109.6 C386.1,111.4 387.2,113.1 388.3,115.1 C389.4,117.1 390.6,119.4 391.7,121.8 C392.8,124.2 394.2,127.2 395.0,129.6 C395.8,132.0 394.7,135.0 396.4,136.3 C398.1,137.6 402.2,137.4 405.1,137.4 C408.0,137.4 411.0,136.8 414.0,136.3 C417.0,135.8 420.4,134.7 423.0,134.6 C425.6,134.5 427.4,134.9 429.6,135.7 C431.8,136.5 434.2,138.0 436.3,139.6 C438.4,141.2 440.4,143.3 441.9,145.2 C443.4,147.1 444.4,149.0 445.4,150.8 C446.4,152.7 447.6,155.4 448.0,156.3 M383.9,158.0 C384.4,156.8 386.1,153.3 387.2,150.8 C388.3,148.3 389.4,145.6 390.5,143.0 C391.6,140.4 392.9,137.2 393.9,135.2 C394.9,133.1 396.0,131.4 396.4,130.7 M385.5,158.0 C386.1,156.8 387.7,153.3 388.8,150.8 C389.9,148.3 391.0,145.7 392.0,143.2 C393.0,140.7 394.3,137.7 395.0,136.0 C395.7,134.3 396.2,133.5 396.4,133.0 M396.4,136.3 C397.1,137.0 399.1,138.8 400.7,140.7 C402.3,142.5 404.3,145.2 406.2,147.4 C408.1,149.6 410.3,152.3 411.8,154.1 C413.3,155.9 414.6,157.3 415.2,158.0 M438.5,158.0 C439.2,157.2 441.9,154.4 443.0,153.0 C444.1,151.6 444.6,150.6 445.4,149.7 C446.2,148.8 447.6,147.8 448.0,147.4 M348.8,145.2 C349.8,145.6 352.8,146.3 354.9,147.4 C357.0,148.5 359.4,150.1 361.6,151.9 C363.8,153.7 367.2,157.0 368.3,158.0 M348.8,145.5 C350.3,146.2 355.0,148.3 357.6,149.7 C360.2,151.1 362.7,152.7 364.3,154.1 C365.9,155.5 367.0,157.3 367.5,158.0 M348.8,146.0 C349.8,146.8 352.8,148.8 354.5,150.5 C356.2,152.2 358.0,155.1 359.0,156.3 C360.0,157.6 360.2,157.7 360.5,158.0 M410.0,104.0 C410.7,104.5 412.7,106.8 414.0,106.8 C415.3,106.8 417.3,104.5 418.0,104.0 M354.0,150.0 C354.3,150.3 354.9,150.6 356.0,152.0 C357.1,153.4 359.0,156.3 360.5,158.7 C362.0,161.1 363.4,163.7 364.9,166.5 C366.4,169.3 368.1,172.6 369.4,175.4 C370.7,178.2 371.6,180.4 372.7,183.2 C373.8,186.0 375.0,189.1 376.1,192.1 C377.2,195.1 378.7,198.8 379.4,201.0 C380.1,203.2 380.3,204.3 380.5,205.0 M356.0,150.0 C356.4,150.3 357.1,150.6 358.2,152.0 C359.3,153.4 361.2,156.3 362.7,158.7 C364.2,161.1 365.8,163.7 367.2,166.5 C368.6,169.3 369.9,172.4 371.1,175.4 C372.3,178.4 373.4,181.5 374.4,184.3 C375.4,187.1 376.2,189.3 377.2,192.1 C378.2,194.9 379.8,198.8 380.5,201.0 C381.2,203.2 381.4,204.3 381.6,205.0 M360.5,150.5 C360.7,150.8 360.7,151.0 361.6,152.0 C362.5,153.0 364.3,154.8 366.0,156.5 C367.7,158.2 369.7,160.3 371.6,162.0 C373.5,163.7 375.4,164.8 377.2,166.5 C379.0,168.2 380.8,170.2 382.7,172.0 C384.6,173.8 386.6,175.9 388.3,177.6 C390.0,179.3 391.5,180.8 392.8,182.1 C394.1,183.4 394.3,185.0 396.4,185.4 C398.4,185.8 401.8,184.9 405.1,184.3 C408.4,183.8 412.6,182.9 416.3,182.1 C420.0,181.3 423.7,180.1 427.4,179.3 C431.1,178.5 435.5,177.8 438.5,177.1 C441.5,176.3 443.6,175.6 445.2,174.8 C446.8,174.1 447.5,173.0 448.0,172.6 M362.7,152.0 C363.6,153.1 366.4,156.5 368.3,158.7 C370.2,160.9 372.0,163.4 373.8,165.4 C375.6,167.4 377.7,168.7 379.4,170.9 C381.1,173.1 382.4,175.7 383.9,178.7 C385.4,181.7 386.8,185.5 388.3,188.7 C389.8,191.9 391.5,195.0 392.8,197.7 C394.1,200.4 395.6,203.8 396.1,205.0 M389.4,150.0 C389.2,150.3 389.2,150.4 388.3,152.0 C387.4,153.6 385.4,157.0 383.9,159.8 C382.4,162.6 380.9,165.5 379.4,168.7 C377.9,171.8 376.5,175.5 375.0,178.7 C373.5,181.8 372.0,184.6 370.5,187.6 C369.0,190.6 367.7,193.6 366.0,196.5 C364.3,199.4 361.4,203.6 360.5,205.0 M346.0,201.5 C346.5,201.4 347.3,201.3 348.8,201.0 C350.3,200.7 352.8,200.7 354.9,199.9 C357.0,199.2 359.4,198.0 361.6,196.5 C363.8,195.0 366.3,193.0 368.3,191.0 C370.3,189.0 372.1,186.7 373.8,184.3 C375.5,181.9 376.8,179.3 378.3,176.5 C379.8,173.7 381.2,170.8 382.7,167.6 C384.2,164.4 386.1,160.2 387.2,157.6 C388.3,155.0 388.8,153.3 389.4,152.0 C389.9,150.7 390.3,150.3 390.5,150.0 M368.3,205.0 C369.8,204.0 374.4,200.8 377.2,198.8 C380.0,196.8 382.8,194.7 385.0,193.2 C387.2,191.7 388.6,191.2 390.5,189.9 C392.4,188.6 394.0,185.8 396.4,185.4 C398.8,185.0 402.5,186.3 405.1,187.6 C407.7,188.9 409.9,191.5 411.8,193.2 C413.7,194.9 414.8,195.7 416.3,197.7 C417.8,199.7 420.0,203.8 420.7,205.0 M348.8,201.0 C349.3,201.4 350.8,202.5 351.6,203.2 C352.4,203.9 353.4,204.7 353.8,205.0 M417.4,205.0 C418.1,204.0 420.3,200.7 421.8,198.8 C423.3,196.9 424.8,194.0 426.3,193.8 C427.8,193.6 429.4,195.8 430.7,197.7 C432.0,199.6 433.5,203.8 434.1,205.0 M407.0,149.0 C407.4,149.5 408.1,150.4 409.6,152.0 C411.2,153.6 414.1,156.5 416.3,158.7 C418.5,160.9 421.0,164.1 423.0,165.4 C425.0,166.7 426.6,166.6 428.5,166.5 C430.4,166.4 432.1,165.9 434.1,164.8 C436.2,163.7 439.0,161.2 440.8,159.8 C442.6,158.4 444.5,157.1 445.2,156.5 M427.4,152.0 C428.3,153.3 431.1,157.0 433.0,159.8 C434.9,162.6 436.6,166.3 438.5,168.7 C440.4,171.1 442.5,172.8 444.1,174.3 C445.7,175.8 447.4,177.1 448.0,177.6 M445.3,156.7 C447.7,156.2 454.7,154.6 459.7,153.5 C464.7,152.4 470.2,151.4 475.4,150.4 C480.6,149.4 485.9,148.1 491.1,147.3 C496.3,146.5 503.1,146.0 506.7,145.7 C510.3,145.4 511.9,145.7 513.0,145.7 M445.3,175.5 C447.2,174.2 452.5,170.2 456.5,167.6 C460.5,165.0 464.7,162.2 469.1,159.8 C473.6,157.5 478.8,155.3 483.2,153.5 C487.6,151.7 491.9,150.0 495.8,148.8 C499.7,147.6 503.8,147.0 506.7,146.5 C509.6,146.0 511.9,145.8 513.0,145.7 M461.3,205.0 C462.6,202.7 466.2,195.6 469.1,191.2 C472.0,186.8 475.4,182.5 478.5,178.6 C481.6,174.7 484.8,171.2 487.9,167.6 C491.0,163.9 494.2,159.8 497.3,156.7 C500.4,153.6 504.1,150.6 506.7,148.8 C509.3,147.0 511.9,146.2 513.0,145.7 M467.5,205.0 C468.8,202.9 472.5,196.8 475.4,192.7 C478.3,188.6 481.7,184.4 484.8,180.2 C487.9,176.0 491.1,171.8 494.2,167.6 C497.3,163.4 500.5,158.8 503.6,155.1 C506.7,151.4 511.4,147.3 513.0,145.7 M470.5,205.0 C471.8,202.9 475.6,196.8 478.5,192.7 C481.4,188.6 484.8,184.6 487.9,180.2 C491.0,175.8 494.2,170.5 497.3,166.1 C500.4,161.7 504.1,156.8 506.7,153.5 C509.3,150.2 511.9,147.7 513.0,146.5 M445.3,156.7 C446.6,158.3 450.5,162.7 453.4,166.1 C456.3,169.5 459.7,173.7 462.8,177.1 C465.9,180.5 468.8,183.9 472.2,186.5 C475.6,189.1 479.3,190.9 483.2,192.7 C487.1,194.5 491.9,196.2 495.8,197.5 C499.7,198.8 503.8,199.8 506.7,200.6 C509.6,201.4 511.9,201.9 513.0,202.2 M445.3,175.5 C446.6,176.8 450.5,181.0 453.4,183.3 C456.3,185.7 459.1,187.5 462.8,189.6 C466.5,191.7 471.2,194.1 475.4,195.9 C479.6,197.7 484.0,199.3 487.9,200.6 C491.8,201.9 496.3,203.0 498.9,203.7 C501.5,204.4 502.8,204.8 503.6,205.0 M464.4,130.0 C465.2,132.1 467.3,138.3 469.1,142.5 C470.9,146.7 473.3,151.4 475.4,155.1 C477.5,158.8 479.5,161.4 481.6,164.5 C483.7,167.6 485.8,170.8 487.9,173.9 C490.0,177.0 491.8,180.2 494.2,183.3 C496.6,186.4 499.4,190.1 502.0,192.7 C504.6,195.3 508.1,197.7 509.9,199.0 C511.7,200.3 512.5,200.3 513.0,200.6 M478.5,130.0 C479.0,131.6 480.3,135.7 481.6,139.4 C482.9,143.1 484.8,148.1 486.4,152.0 C488.0,155.9 489.5,158.7 491.1,162.9 C492.7,167.1 494.2,172.7 495.8,177.1 C497.4,181.5 498.7,185.9 500.5,189.6 C502.3,193.2 504.6,196.9 506.7,199.0 C508.8,201.1 511.9,201.7 513.0,202.2 M445.3,148.8 C446.4,147.5 449.4,142.8 451.8,141.0 C454.2,139.2 457.6,138.1 459.7,137.8 C461.8,137.5 463.1,138.1 464.4,139.4 C465.7,140.7 467.0,144.6 467.5,145.7 M453.4,180.0 C454.4,181.1 457.6,184.9 459.7,186.5 C461.8,188.1 463.9,189.1 466.0,189.3 C468.1,189.6 469.6,189.2 472.2,188.0 C474.8,186.8 480.0,182.8 481.6,181.8 M470.1,121.4 C470.9,122.4 473.4,125.2 474.8,127.3 C476.2,129.4 477.1,132.3 478.3,134.2 C479.5,136.1 481.4,138.1 482.0,138.9 M513.0,145.7 C514.9,145.8 520.6,146.1 524.5,146.4 C528.4,146.7 532.2,147.2 536.1,147.6 C540.0,148.0 546.0,148.6 548.0,148.8 M513.0,202.2 C514.3,202.2 518.5,202.0 521.0,202.3 C523.5,202.6 525.9,203.5 528.0,204.0 C530.1,204.5 532.8,205.0 533.8,205.2 M348.7,29.1 C349.4,28.2 351.7,25.6 353.2,23.7 C354.7,21.8 356.5,19.3 357.7,17.5 C358.9,15.7 359.4,14.7 360.3,13.0 C361.2,11.3 362.5,8.7 363.0,7.6 C363.5,6.5 363.4,6.7 363.5,6.5 M364.0,6.5 C364.6,7.5 366.7,11.1 367.5,12.5 C368.3,13.9 368.8,14.6 369.0,15.0 M371.0,6.5 C370.4,7.5 368.3,11.1 367.5,12.5 C366.7,13.9 366.2,14.6 366.0,15.0 M378.5,6.5 C379.2,7.6 381.7,11.4 382.8,13.0 C383.9,14.6 384.6,15.5 385.0,16.0 M385.7,6.5 C386.4,7.6 388.9,11.4 390.0,13.0 C391.1,14.6 391.7,15.5 392.0,16.0 M478.5,6.5 C479.3,7.2 481.9,10.7 483.3,10.7 C484.7,10.7 486.2,7.2 486.8,6.5 M348.7,31.0 C349.2,30.3 350.8,28.5 352.0,27.0 C353.2,25.5 354.8,23.5 356.0,22.0 C357.2,20.5 358.5,18.7 359.0,18.0 M452.0,84.0 C452.8,85.0 455.1,87.9 456.6,90.0 C458.1,92.1 459.4,93.9 460.9,96.7 C462.4,99.5 463.8,103.2 465.4,106.7 C467.0,110.2 468.7,117.4 470.4,118.0 C472.1,118.6 473.6,113.0 475.4,110.3 C477.1,107.6 479.1,104.8 480.9,102.1 C482.7,99.4 484.6,96.4 486.3,94.0 C488.0,91.6 489.7,89.3 490.9,87.6 C492.1,85.9 492.4,85.1 493.6,84.0 C494.8,82.9 496.3,81.8 498.0,81.0 C499.7,80.2 501.9,79.7 504.0,79.2 C506.1,78.7 508.6,78.3 510.6,78.1 C512.6,77.9 515.1,77.8 516.0,77.8 M446.0,155.0 C447.0,154.3 449.8,152.7 452.0,151.0 C454.2,149.3 456.7,147.5 459.0,145.0 C461.3,142.5 463.9,138.8 466.0,136.0 C468.1,133.2 469.8,130.8 471.8,128.0 C473.8,125.2 476.1,122.2 478.1,119.4 C480.1,116.6 481.8,113.9 483.6,111.2 C485.4,108.5 487.3,105.7 489.0,103.1 C490.7,100.5 492.1,98.1 493.6,95.8 C495.1,93.5 496.8,91.4 498.1,89.4 C499.5,87.4 500.4,85.5 501.7,84.0 C503.0,82.5 504.1,81.4 506.0,80.5 C507.9,79.6 511.8,79.0 513.0,78.7 M450.0,156.0 C451.0,155.2 453.8,152.9 456.0,151.0 C458.2,149.1 460.8,147.0 463.0,144.5 C465.2,142.0 467.4,138.8 469.5,136.0 C471.6,133.2 473.3,130.8 475.4,128.0 C477.4,125.2 479.8,122.2 481.8,119.4 C483.8,116.6 485.5,113.6 487.2,111.2 C488.9,108.8 490.3,107.0 491.8,104.9 C493.3,102.8 494.8,100.6 496.3,98.5 C497.8,96.4 499.4,94.2 500.8,92.2 C502.2,90.2 503.5,88.2 505.0,86.5 C506.5,84.8 508.2,83.1 510.0,82.0 C511.8,80.9 515.0,80.3 516.0,80.0 M445.3,148.8 C447.2,148.6 452.8,148.4 456.5,147.3 C460.2,146.2 464.4,144.3 467.5,142.5 C470.6,140.7 473.2,138.7 475.4,136.3 C477.6,133.9 479.1,130.7 480.9,128.0 C482.7,125.3 484.6,122.6 486.3,120.3 C488.0,118.0 489.2,116.0 490.9,113.9 C492.6,111.8 494.6,109.6 496.3,107.6 C498.0,105.6 499.5,103.6 500.8,102.1 C502.1,100.6 502.8,99.8 504.0,98.5 C505.2,97.2 506.5,95.4 508.0,94.0 C509.5,92.6 512.2,90.7 513.0,90.0"/></g>
<line x1="348.0" y1="106.4" x2="597.0" y2="106.4" stroke="#222" stroke-width="1.1"/>
<rect x="348.0" y="6.5" width="249.0" height="199.1" fill="none" stroke="#3a3a3a" stroke-width="1.4"/>
<text x="349.0" y="218.4" class="kl" text-anchor="middle">Γ</text>
<text x="396.6" y="218.4" class="kl" text-anchor="middle">X</text>
<text x="446.0" y="218.4" class="kl" text-anchor="middle">M</text>
<text x="514.5" y="218.4" class="kl" text-anchor="middle">Γ</text>
<text x="597.0" y="218.4" class="kl" text-anchor="middle">R</text>
<text x="6" y="12.2" class="pl">(a)</text>
<text x="310" y="11.5" class="pl">(b)</text>
<text x="7" y="253.7" class="pl">(c)</text>
<text x="305.3" y="253.7" class="pl">(d)</text>
<text transform="translate(16.3,112.7) rotate(-90)" class="at" text-anchor="middle">Energy (eV)</text>
<text transform="translate(318.8,114.7) rotate(-90)" class="at" text-anchor="middle">Energy (eV)</text>
<text transform="translate(10.5,345) rotate(-90) scale(0.915,1)" class="at" text-anchor="middle">DOS (states/eV)</text>
<text transform="translate(313.1,344.5) rotate(-90) scale(0.975,1)" class="at" text-anchor="middle">DOS (states/eV)</text>
<rect x="54" y="12.6" width="93" height="14.2" fill="#fff" stroke="#b0b0b0" stroke-width="0.9"/>
<line x1="58.2" y1="18.6" x2="79.2" y2="18.6" stroke="#2a9a98" stroke-width="1.2"/>
<text transform="translate(82.3,22.799999999999997) scale(0.775,1)" class="lg" style="font-size:12.5px">CeH<tspan font-size="7.5" dy="3.6">10</tspan><tspan dy="-3.6">@400GPa</tspan></text>
<rect x="357.3" y="13.1" width="94.2" height="14.1" fill="#fff" stroke="#b0b0b0" stroke-width="0.9"/>
<line x1="361.9" y1="19.1" x2="382.9" y2="19.1" stroke="#2a9a98" stroke-width="1.2"/>
<text transform="translate(385.4,23.299999999999997) scale(0.775,1)" class="lg" style="font-size:12.5px">CeH<tspan font-size="7.5" dy="3.6">10</tspan><tspan dy="-3.6">@700GPa</tspan></text>
<line x1="45.20" y1="443.1" x2="45.20" y2="439.90000000000003" stroke="#3a3a3a" stroke-width="1"/>
<line x1="45.20" y1="238.8" x2="45.20" y2="242.0" stroke="#3a3a3a" stroke-width="1"/>
<line x1="60.76" y1="443.1" x2="60.76" y2="441.1" stroke="#3a3a3a" stroke-width="1"/>
<line x1="60.76" y1="238.8" x2="60.76" y2="240.8" stroke="#3a3a3a" stroke-width="1"/>
<text transform="translate(45.20,457.0) scale(0.85,1)" class="tk" text-anchor="middle">-4</text>
<line x1="76.33" y1="443.1" x2="76.33" y2="439.90000000000003" stroke="#3a3a3a" stroke-width="1"/>
<line x1="76.33" y1="238.8" x2="76.33" y2="242.0" stroke="#3a3a3a" stroke-width="1"/>
<line x1="91.89" y1="443.1" x2="91.89" y2="441.1" stroke="#3a3a3a" stroke-width="1"/>
<line x1="91.89" y1="238.8" x2="91.89" y2="240.8" stroke="#3a3a3a" stroke-width="1"/>
<text transform="translate(76.33,457.0) scale(0.85,1)" class="tk" text-anchor="middle">-3</text>
<line x1="107.45" y1="443.1" x2="107.45" y2="439.90000000000003" stroke="#3a3a3a" stroke-width="1"/>
<line x1="107.45" y1="238.8" x2="107.45" y2="242.0" stroke="#3a3a3a" stroke-width="1"/>
<line x1="123.01" y1="443.1" x2="123.01" y2="441.1" stroke="#3a3a3a" stroke-width="1"/>
<line x1="123.01" y1="238.8" x2="123.01" y2="240.8" stroke="#3a3a3a" stroke-width="1"/>
<text transform="translate(107.45,457.0) scale(0.85,1)" class="tk" text-anchor="middle">-2</text>
<line x1="138.57" y1="443.1" x2="138.57" y2="439.90000000000003" stroke="#3a3a3a" stroke-width="1"/>
<line x1="138.57" y1="238.8" x2="138.57" y2="242.0" stroke="#3a3a3a" stroke-width="1"/>
<line x1="154.14" y1="443.1" x2="154.14" y2="441.1" stroke="#3a3a3a" stroke-width="1"/>
<line x1="154.14" y1="238.8" x2="154.14" y2="240.8" stroke="#3a3a3a" stroke-width="1"/>
<text transform="translate(138.57,457.0) scale(0.85,1)" class="tk" text-anchor="middle">-1</text>
<line x1="169.70" y1="443.1" x2="169.70" y2="439.90000000000003" stroke="#3a3a3a" stroke-width="1"/>
<line x1="169.70" y1="238.8" x2="169.70" y2="242.0" stroke="#3a3a3a" stroke-width="1"/>
<line x1="185.26" y1="443.1" x2="185.26" y2="441.1" stroke="#3a3a3a" stroke-width="1"/>
<line x1="185.26" y1="238.8" x2="185.26" y2="240.8" stroke="#3a3a3a" stroke-width="1"/>
<text transform="translate(169.70,457.0) scale(0.85,1)" class="tk" text-anchor="middle">0</text>
<line x1="200.82" y1="443.1" x2="200.82" y2="439.90000000000003" stroke="#3a3a3a" stroke-width="1"/>
<line x1="200.82" y1="238.8" x2="200.82" y2="242.0" stroke="#3a3a3a" stroke-width="1"/>
<line x1="216.39" y1="443.1" x2="216.39" y2="441.1" stroke="#3a3a3a" stroke-width="1"/>
<line x1="216.39" y1="238.8" x2="216.39" y2="240.8" stroke="#3a3a3a" stroke-width="1"/>
<text transform="translate(200.82,457.0) scale(0.85,1)" class="tk" text-anchor="middle">1</text>
<line x1="231.95" y1="443.1" x2="231.95" y2="439.90000000000003" stroke="#3a3a3a" stroke-width="1"/>
<line x1="231.95" y1="238.8" x2="231.95" y2="242.0" stroke="#3a3a3a" stroke-width="1"/>
<line x1="247.51" y1="443.1" x2="247.51" y2="441.1" stroke="#3a3a3a" stroke-width="1"/>
<line x1="247.51" y1="238.8" x2="247.51" y2="240.8" stroke="#3a3a3a" stroke-width="1"/>
<text transform="translate(231.95,457.0) scale(0.85,1)" class="tk" text-anchor="middle">2</text>
<line x1="263.07" y1="443.1" x2="263.07" y2="439.90000000000003" stroke="#3a3a3a" stroke-width="1"/>
<line x1="263.07" y1="238.8" x2="263.07" y2="242.0" stroke="#3a3a3a" stroke-width="1"/>
<line x1="278.64" y1="443.1" x2="278.64" y2="441.1" stroke="#3a3a3a" stroke-width="1"/>
<line x1="278.64" y1="238.8" x2="278.64" y2="240.8" stroke="#3a3a3a" stroke-width="1"/>
<text transform="translate(263.07,457.0) scale(0.85,1)" class="tk" text-anchor="middle">3</text>
<line x1="294.20" y1="443.1" x2="294.20" y2="439.90000000000003" stroke="#3a3a3a" stroke-width="1"/>
<line x1="294.20" y1="238.8" x2="294.20" y2="242.0" stroke="#3a3a3a" stroke-width="1"/>
<text transform="translate(294.20,457.0) scale(0.85,1)" class="tk" text-anchor="middle">4</text>
<line x1="45.2" y1="443.10" x2="48.400000000000006" y2="443.10" stroke="#3a3a3a" stroke-width="1"/>
<line x1="294.2" y1="443.10" x2="291.0" y2="443.10" stroke="#3a3a3a" stroke-width="1"/>
<line x1="45.2" y1="430.33" x2="47.2" y2="430.33" stroke="#3a3a3a" stroke-width="1"/>
<line x1="294.2" y1="430.33" x2="292.2" y2="430.33" stroke="#3a3a3a" stroke-width="1"/>
<text transform="translate(40.400000000000006,446.00) scale(0.88,1)" class="tk" text-anchor="end">0.0</text>
<line x1="45.2" y1="417.56" x2="48.400000000000006" y2="417.56" stroke="#3a3a3a" stroke-width="1"/>
<line x1="294.2" y1="417.56" x2="291.0" y2="417.56" stroke="#3a3a3a" stroke-width="1"/>
<line x1="45.2" y1="404.79" x2="47.2" y2="404.79" stroke="#3a3a3a" stroke-width="1"/>
<line x1="294.2" y1="404.79" x2="292.2" y2="404.79" stroke="#3a3a3a" stroke-width="1"/>
<text transform="translate(40.400000000000006,420.46) scale(0.88,1)" class="tk" text-anchor="end">0.1</text>
<line x1="45.2" y1="392.03" x2="48.400000000000006" y2="392.03" stroke="#3a3a3a" stroke-width="1"/>
<line x1="294.2" y1="392.03" x2="291.0" y2="392.03" stroke="#3a3a3a" stroke-width="1"/>
<line x1="45.2" y1="379.26" x2="47.2" y2="379.26" stroke="#3a3a3a" stroke-width="1"/>
<line x1="294.2" y1="379.26" x2="292.2" y2="379.26" stroke="#3a3a3a" stroke-width="1"/>
<text transform="translate(40.400000000000006,394.93) scale(0.88,1)" class="tk" text-anchor="end">0.2</text>
<line x1="45.2" y1="366.49" x2="48.400000000000006" y2="366.49" stroke="#3a3a3a" stroke-width="1"/>
<line x1="294.2" y1="366.49" x2="291.0" y2="366.49" stroke="#3a3a3a" stroke-width="1"/>
<line x1="45.2" y1="353.72" x2="47.2" y2="353.72" stroke="#3a3a3a" stroke-width="1"/>
<line x1="294.2" y1="353.72" x2="292.2" y2="353.72" stroke="#3a3a3a" stroke-width="1"/>
<text transform="translate(40.400000000000006,369.39) scale(0.88,1)" class="tk" text-anchor="end">0.3</text>
<line x1="45.2" y1="340.95" x2="48.400000000000006" y2="340.95" stroke="#3a3a3a" stroke-width="1"/>
<line x1="294.2" y1="340.95" x2="291.0" y2="340.95" stroke="#3a3a3a" stroke-width="1"/>
<line x1="45.2" y1="328.18" x2="47.2" y2="328.18" stroke="#3a3a3a" stroke-width="1"/>
<line x1="294.2" y1="328.18" x2="292.2" y2="328.18" stroke="#3a3a3a" stroke-width="1"/>
<text transform="translate(40.400000000000006,343.85) scale(0.88,1)" class="tk" text-anchor="end">0.4</text>
<line x1="45.2" y1="315.41" x2="48.400000000000006" y2="315.41" stroke="#3a3a3a" stroke-width="1"/>
<line x1="294.2" y1="315.41" x2="291.0" y2="315.41" stroke="#3a3a3a" stroke-width="1"/>
<line x1="45.2" y1="302.64" x2="47.2" y2="302.64" stroke="#3a3a3a" stroke-width="1"/>
<line x1="294.2" y1="302.64" x2="292.2" y2="302.64" stroke="#3a3a3a" stroke-width="1"/>
<text transform="translate(40.400000000000006,318.31) scale(0.88,1)" class="tk" text-anchor="end">0.5</text>
<line x1="45.2" y1="289.88" x2="48.400000000000006" y2="289.88" stroke="#3a3a3a" stroke-width="1"/>
<line x1="294.2" y1="289.88" x2="291.0" y2="289.88" stroke="#3a3a3a" stroke-width="1"/>
<line x1="45.2" y1="277.11" x2="47.2" y2="277.11" stroke="#3a3a3a" stroke-width="1"/>
<line x1="294.2" y1="277.11" x2="292.2" y2="277.11" stroke="#3a3a3a" stroke-width="1"/>
<text transform="translate(40.400000000000006,292.77) scale(0.88,1)" class="tk" text-anchor="end">0.6</text>
<line x1="45.2" y1="264.34" x2="48.400000000000006" y2="264.34" stroke="#3a3a3a" stroke-width="1"/>
<line x1="294.2" y1="264.34" x2="291.0" y2="264.34" stroke="#3a3a3a" stroke-width="1"/>
<line x1="45.2" y1="251.57" x2="47.2" y2="251.57" stroke="#3a3a3a" stroke-width="1"/>
<line x1="294.2" y1="251.57" x2="292.2" y2="251.57" stroke="#3a3a3a" stroke-width="1"/>
<text transform="translate(40.400000000000006,267.24) scale(0.88,1)" class="tk" text-anchor="end">0.7</text>
<line x1="45.2" y1="238.80" x2="48.400000000000006" y2="238.80" stroke="#3a3a3a" stroke-width="1"/>
<line x1="294.2" y1="238.80" x2="291.0" y2="238.80" stroke="#3a3a3a" stroke-width="1"/>
<text transform="translate(40.400000000000006,241.70) scale(0.88,1)" class="tk" text-anchor="end">0.8</text>
<line x1="169.70" y1="238.8" x2="169.70" y2="443.1" stroke="#333" stroke-width="0.9" stroke-dasharray="1,1.2"/>
<line x1="348.50" y1="443.1" x2="348.50" y2="439.90000000000003" stroke="#3a3a3a" stroke-width="1"/>
<line x1="348.50" y1="238.8" x2="348.50" y2="242.0" stroke="#3a3a3a" stroke-width="1"/>
<line x1="364.06" y1="443.1" x2="364.06" y2="441.1" stroke="#3a3a3a" stroke-width="1"/>
<line x1="364.06" y1="238.8" x2="364.06" y2="240.8" stroke="#3a3a3a" stroke-width="1"/>
<text transform="translate(348.50,457.0) scale(0.85,1)" class="tk" text-anchor="middle">-4</text>
<line x1="379.62" y1="443.1" x2="379.62" y2="439.90000000000003" stroke="#3a3a3a" stroke-width="1"/>
<line x1="379.62" y1="238.8" x2="379.62" y2="242.0" stroke="#3a3a3a" stroke-width="1"/>
<line x1="395.19" y1="443.1" x2="395.19" y2="441.1" stroke="#3a3a3a" stroke-width="1"/>
<line x1="395.19" y1="238.8" x2="395.19" y2="240.8" stroke="#3a3a3a" stroke-width="1"/>
<text transform="translate(379.62,457.0) scale(0.85,1)" class="tk" text-anchor="middle">-3</text>
<line x1="410.75" y1="443.1" x2="410.75" y2="439.90000000000003" stroke="#3a3a3a" stroke-width="1"/>
<line x1="410.75" y1="238.8" x2="410.75" y2="242.0" stroke="#3a3a3a" stroke-width="1"/>
<line x1="426.31" y1="443.1" x2="426.31" y2="441.1" stroke="#3a3a3a" stroke-width="1"/>
<line x1="426.31" y1="238.8" x2="426.31" y2="240.8" stroke="#3a3a3a" stroke-width="1"/>
<text transform="translate(410.75,457.0) scale(0.85,1)" class="tk" text-anchor="middle">-2</text>
<line x1="441.88" y1="443.1" x2="441.88" y2="439.90000000000003" stroke="#3a3a3a" stroke-width="1"/>
<line x1="441.88" y1="238.8" x2="441.88" y2="242.0" stroke="#3a3a3a" stroke-width="1"/>
<line x1="457.44" y1="443.1" x2="457.44" y2="441.1" stroke="#3a3a3a" stroke-width="1"/>
<line x1="457.44" y1="238.8" x2="457.44" y2="240.8" stroke="#3a3a3a" stroke-width="1"/>
<text transform="translate(441.88,457.0) scale(0.85,1)" class="tk" text-anchor="middle">-1</text>
<line x1="473.00" y1="443.1" x2="473.00" y2="439.90000000000003" stroke="#3a3a3a" stroke-width="1"/>
<line x1="473.00" y1="238.8" x2="473.00" y2="242.0" stroke="#3a3a3a" stroke-width="1"/>
<line x1="488.56" y1="443.1" x2="488.56" y2="441.1" stroke="#3a3a3a" stroke-width="1"/>
<line x1="488.56" y1="238.8" x2="488.56" y2="240.8" stroke="#3a3a3a" stroke-width="1"/>
<text transform="translate(473.00,457.0) scale(0.85,1)" class="tk" text-anchor="middle">0</text>
<line x1="504.12" y1="443.1" x2="504.12" y2="439.90000000000003" stroke="#3a3a3a" stroke-width="1"/>
<line x1="504.12" y1="238.8" x2="504.12" y2="242.0" stroke="#3a3a3a" stroke-width="1"/>
<line x1="519.69" y1="443.1" x2="519.69" y2="441.1" stroke="#3a3a3a" stroke-width="1"/>
<line x1="519.69" y1="238.8" x2="519.69" y2="240.8" stroke="#3a3a3a" stroke-width="1"/>
<text transform="translate(504.12,457.0) scale(0.85,1)" class="tk" text-anchor="middle">1</text>
<line x1="535.25" y1="443.1" x2="535.25" y2="439.90000000000003" stroke="#3a3a3a" stroke-width="1"/>
<line x1="535.25" y1="238.8" x2="535.25" y2="242.0" stroke="#3a3a3a" stroke-width="1"/>
<line x1="550.81" y1="443.1" x2="550.81" y2="441.1" stroke="#3a3a3a" stroke-width="1"/>
<line x1="550.81" y1="238.8" x2="550.81" y2="240.8" stroke="#3a3a3a" stroke-width="1"/>
<text transform="translate(535.25,457.0) scale(0.85,1)" class="tk" text-anchor="middle">2</text>
<line x1="566.38" y1="443.1" x2="566.38" y2="439.90000000000003" stroke="#3a3a3a" stroke-width="1"/>
<line x1="566.38" y1="238.8" x2="566.38" y2="242.0" stroke="#3a3a3a" stroke-width="1"/>
<line x1="581.94" y1="443.1" x2="581.94" y2="441.1" stroke="#3a3a3a" stroke-width="1"/>
<line x1="581.94" y1="238.8" x2="581.94" y2="240.8" stroke="#3a3a3a" stroke-width="1"/>
<text transform="translate(566.38,457.0) scale(0.85,1)" class="tk" text-anchor="middle">3</text>
<line x1="597.50" y1="443.1" x2="597.50" y2="439.90000000000003" stroke="#3a3a3a" stroke-width="1"/>
<line x1="597.50" y1="238.8" x2="597.50" y2="242.0" stroke="#3a3a3a" stroke-width="1"/>
<text transform="translate(597.50,457.0) scale(0.85,1)" class="tk" text-anchor="middle">4</text>
<line x1="348.5" y1="443.10" x2="351.7" y2="443.10" stroke="#3a3a3a" stroke-width="1"/>
<line x1="597.5" y1="443.10" x2="594.3" y2="443.10" stroke="#3a3a3a" stroke-width="1"/>
<line x1="348.5" y1="430.33" x2="350.5" y2="430.33" stroke="#3a3a3a" stroke-width="1"/>
<line x1="597.5" y1="430.33" x2="595.5" y2="430.33" stroke="#3a3a3a" stroke-width="1"/>
<text transform="translate(343.7,446.00) scale(0.88,1)" class="tk" text-anchor="end">0.0</text>
<line x1="348.5" y1="417.56" x2="351.7" y2="417.56" stroke="#3a3a3a" stroke-width="1"/>
<line x1="597.5" y1="417.56" x2="594.3" y2="417.56" stroke="#3a3a3a" stroke-width="1"/>
<line x1="348.5" y1="404.79" x2="350.5" y2="404.79" stroke="#3a3a3a" stroke-width="1"/>
<line x1="597.5" y1="404.79" x2="595.5" y2="404.79" stroke="#3a3a3a" stroke-width="1"/>
<text transform="translate(343.7,420.46) scale(0.88,1)" class="tk" text-anchor="end">0.1</text>
<line x1="348.5" y1="392.03" x2="351.7" y2="392.03" stroke="#3a3a3a" stroke-width="1"/>
<line x1="597.5" y1="392.03" x2="594.3" y2="392.03" stroke="#3a3a3a" stroke-width="1"/>
<line x1="348.5" y1="379.26" x2="350.5" y2="379.26" stroke="#3a3a3a" stroke-width="1"/>
<line x1="597.5" y1="379.26" x2="595.5" y2="379.26" stroke="#3a3a3a" stroke-width="1"/>
<text transform="translate(343.7,394.93) scale(0.88,1)" class="tk" text-anchor="end">0.2</text>
<line x1="348.5" y1="366.49" x2="351.7" y2="366.49" stroke="#3a3a3a" stroke-width="1"/>
<line x1="597.5" y1="366.49" x2="594.3" y2="366.49" stroke="#3a3a3a" stroke-width="1"/>
<line x1="348.5" y1="353.72" x2="350.5" y2="353.72" stroke="#3a3a3a" stroke-width="1"/>
<line x1="597.5" y1="353.72" x2="595.5" y2="353.72" stroke="#3a3a3a" stroke-width="1"/>
<text transform="translate(343.7,369.39) scale(0.88,1)" class="tk" text-anchor="end">0.3</text>
<line x1="348.5" y1="340.95" x2="351.7" y2="340.95" stroke="#3a3a3a" stroke-width="1"/>
<line x1="597.5" y1="340.95" x2="594.3" y2="340.95" stroke="#3a3a3a" stroke-width="1"/>
<line x1="348.5" y1="328.18" x2="350.5" y2="328.18" stroke="#3a3a3a" stroke-width="1"/>
<line x1="597.5" y1="328.18" x2="595.5" y2="328.18" stroke="#3a3a3a" stroke-width="1"/>
<text transform="translate(343.7,343.85) scale(0.88,1)" class="tk" text-anchor="end">0.4</text>
<line x1="348.5" y1="315.41" x2="351.7" y2="315.41" stroke="#3a3a3a" stroke-width="1"/>
<line x1="597.5" y1="315.41" x2="594.3" y2="315.41" stroke="#3a3a3a" stroke-width="1"/>
<line x1="348.5" y1="302.64" x2="350.5" y2="302.64" stroke="#3a3a3a" stroke-width="1"/>
<line x1="597.5" y1="302.64" x2="595.5" y2="302.64" stroke="#3a3a3a" stroke-width="1"/>
<text transform="translate(343.7,318.31) scale(0.88,1)" class="tk" text-anchor="end">0.5</text>
<line x1="348.5" y1="289.88" x2="351.7" y2="289.88" stroke="#3a3a3a" stroke-width="1"/>
<line x1="597.5" y1="289.88" x2="594.3" y2="289.88" stroke="#3a3a3a" stroke-width="1"/>
<line x1="348.5" y1="277.11" x2="350.5" y2="277.11" stroke="#3a3a3a" stroke-width="1"/>
<line x1="597.5" y1="277.11" x2="595.5" y2="277.11" stroke="#3a3a3a" stroke-width="1"/>
<text transform="translate(343.7,292.77) scale(0.88,1)" class="tk" text-anchor="end">0.6</text>
<line x1="348.5" y1="264.34" x2="351.7" y2="264.34" stroke="#3a3a3a" stroke-width="1"/>
<line x1="597.5" y1="264.34" x2="594.3" y2="264.34" stroke="#3a3a3a" stroke-width="1"/>
<line x1="348.5" y1="251.57" x2="350.5" y2="251.57" stroke="#3a3a3a" stroke-width="1"/>
<line x1="597.5" y1="251.57" x2="595.5" y2="251.57" stroke="#3a3a3a" stroke-width="1"/>
<text transform="translate(343.7,267.24) scale(0.88,1)" class="tk" text-anchor="end">0.7</text>
<line x1="348.5" y1="238.80" x2="351.7" y2="238.80" stroke="#3a3a3a" stroke-width="1"/>
<line x1="597.5" y1="238.80" x2="594.3" y2="238.80" stroke="#3a3a3a" stroke-width="1"/>
<text transform="translate(343.7,241.70) scale(0.88,1)" class="tk" text-anchor="end">0.8</text>
<line x1="473.00" y1="238.8" x2="473.00" y2="443.1" stroke="#333" stroke-width="0.9" stroke-dasharray="1,1.2"/>
<clipPath id="cc"><rect x="45.2" y="238.8" width="249" height="204.3"/></clipPath><g clip-path="url(#cc)"><polyline points="45.2,442.3 120.0,442.4 200.0,442.4 280.0,441.7 286.0,440.3 289.5,438.4 292.5,438.8 294.5,440.2" fill="none" stroke="#e03030" stroke-width="1.3" stroke-linejoin="round" stroke-linecap="round"/><polyline points="45.2,436.7 53.4,435.8 66.8,437.5 82.9,437.2 101.7,438.0 120.4,439.6 147.3,441.2 180.0,442.0 213.6,441.2 231.1,440.1 240.5,442.0 251.2,442.0 253.9,439.3 267.3,439.3 278.0,436.7 284.7,430.0 288.7,420.6 291.4,416.0 294.0,416.5" fill="none" stroke="#f5a030" stroke-width="1.3" stroke-linejoin="round" stroke-linecap="round"/><polyline points="45.2,429.4 53.4,430.5 64.1,432.1 74.9,434.8 88.3,434.0 101.7,436.7 117.8,438.8 133.9,440.1 152.6,441.2 180.0,442.0 213.6,440.1 229.7,438.5 232.4,437.5 236.4,439.3 240.5,441.2 251.2,442.0 267.3,440.7 283.4,439.3 288.0,436.5 290.5,435.3 293.0,436.0 294.5,437.5" fill="none" stroke="#2a2aa0" stroke-width="1.3" stroke-linejoin="round" stroke-linecap="round"/><polyline points="45.2,421.5 50.7,418.4 53.0,417.5 56.1,419.2 62.8,422.4 69.5,424.6 77.5,428.6 91.0,426.2 101.7,428.6 117.8,434.0 124.5,432.1 132.5,434.8 144.6,435.8 160.7,434.8 170.7,434.0 178.8,434.8 185.5,423.2 190.8,415.2 193.5,413.3 196.2,403.1 200.2,407.2 206.9,410.6 212.3,400.5 215.0,401.8 219.0,413.9 224.4,423.2 231.0,420.5 235.8,424.6 238.2,430.6 240.6,441.4 249.0,442.0 252.5,386.3 256.1,399.5 259.7,407.1 262.1,406.6 266.8,386.5 270.0,384.9 274.9,389.7 279.7,377.5 282.9,376.2 286.1,354.3 290.3,308.0 292.4,330.0 294.0,352.0" fill="none" stroke="#2f9a2f" stroke-width="1.3" stroke-linejoin="round" stroke-linecap="round"/><polyline points="45.2,405.3 49.4,396.4 54.7,395.1 61.5,400.5 65.5,397.8 69.5,400.5 76.2,403.7 82.9,397.8 91.0,391.1 96.3,389.7 101.7,386.5 107.0,383.0 111.9,375.0 118.3,391.1 123.9,381.7 133.9,397.8 143.2,403.1 155.3,398.6 162.0,401.3 166.0,397.8 171.4,399.9 176.1,405.3 180.1,405.8 185.5,400.5 189.5,387.0 192.2,368.3 194.9,346.8 197.5,328.0 201.0,306.6 209.4,240.2 210.0,230.0 240.0,230.0 240.6,330.0 243.2,428.5 249.0,412.5 249.7,330.0 250.5,230.0 270.7,230.0 271.5,290.0 279.0,290.0 280.0,230.0 294.0,230.0" fill="none" stroke="#2a9a98" stroke-width="1.3" stroke-linejoin="round" stroke-linecap="round"/><polyline points="45.2,362.0 47.0,356.0 49.0,350.5 52.0,347.5 55.0,348.3 57.0,351.0 61.5,361.6 65.5,358.1 69.5,364.2 76.2,373.6 78.9,373.6 84.2,365.6 89.6,359.7 93.6,358.9 97.7,357.0 103.0,362.4 111.9,352.2 118.3,373.6 123.9,361.6 133.9,383.0 143.2,391.1 147.3,389.2 155.3,385.7 162.0,389.7 166.0,385.7 169.4,385.9 174.7,393.7 178.8,394.5 182.8,387.0 185.5,368.3 188.2,350.8 190.8,343.5 192.5,342.0 194.8,342.0 196.7,292.5 199.6,264.2 202.4,240.2 203.0,230.0 240.0,230.0 240.6,330.0 243.0,427.3 249.0,411.4 249.7,330.0 250.0,230.0 294.0,230.0" fill="none" stroke="#2a2a2a" stroke-width="1.3" stroke-linejoin="round" stroke-linecap="round"/></g><line x1="165.7" y1="367.7" x2="165.7" y2="381.5" stroke="#222" stroke-width="1"/><polyline points="163.1,376.5 165.7,381.5 168.29999999999998,376.5" fill="none" stroke="#222" stroke-width="1"/>
<clipPath id="cd"><rect x="348.5" y="238.8" width="249" height="204.3"/></clipPath><g clip-path="url(#cd)"><polyline points="348.5,442.0 450.0,442.2 560.0,441.8 598.0,442.0" fill="none" stroke="#e03030" stroke-width="1.3" stroke-linejoin="round" stroke-linecap="round"/><polyline points="348.5,437.8 360.0,436.9 375.1,437.8 405.2,437.8 423.2,439.0 444.3,439.9 475.0,440.5 520.0,440.3 545.0,439.5 553.9,438.0 562.0,439.5 567.0,441.0 576.0,441.0 579.5,438.6 584.0,440.3 598.0,440.5" fill="none" stroke="#f5a030" stroke-width="1.3" stroke-linejoin="round" stroke-linecap="round"/><polyline points="348.5,415.9 354.0,411.3 358.5,408.9 363.1,411.9 366.7,409.8 369.7,404.7 375.1,412.8 381.1,421.9 388.6,424.9 396.2,425.8 402.2,424.9 406.7,423.4 411.2,428.8 417.2,433.9 423.2,431.8 432.3,435.4 444.3,439.0 459.4,439.9 475.0,440.5 483.1,439.2 504.2,439.2 525.3,438.0 543.3,437.1 550.9,434.1 555.4,429.6 559.9,432.6 562.9,435.0 567.4,440.1 576.5,440.7 580.1,437.4 582.5,440.1 598.0,440.7" fill="none" stroke="#2a2aa0" stroke-width="1.3" stroke-linejoin="round" stroke-linecap="round"/><polyline points="348.5,423.4 351.6,420.4 355.5,419.8 360.0,423.4 366.1,427.9 375.1,430.0 381.1,428.8 390.1,425.8 399.2,427.9 405.2,430.9 417.2,433.9 424.7,431.8 432.3,435.4 444.3,436.9 456.3,436.0 465.0,435.0 474.0,432.6 481.6,432.6 487.6,426.5 492.1,419.0 496.6,413.9 504.2,416.0 514.7,418.1 520.7,410.0 524.7,401.8 528.3,414.5 534.3,420.5 540.3,424.1 543.9,422.0 546.3,413.9 549.4,422.0 553.9,422.9 561.4,426.5 567.4,440.1 576.5,441.0 578.9,420.5 581.0,390.4 584.0,387.4 587.0,391.9 591.5,402.4 596.1,397.0 598.0,396.4" fill="none" stroke="#2f9a2f" stroke-width="1.3" stroke-linejoin="round" stroke-linecap="round"/><polyline points="348.5,399.3 352.5,394.8 357.0,390.3 363.1,396.3 369.1,385.2 372.7,390.9 378.1,388.8 381.7,391.8 385.6,387.3 394.7,383.7 400.7,382.8 406.7,362.6 411.2,378.2 415.7,388.2 422.6,380.7 427.8,388.8 431.7,396.3 434.7,395.7 439.8,402.3 447.3,405.3 453.3,402.3 458.8,405.9 463.9,404.7 468.4,401.7 474.0,407.0 481.6,410.9 486.1,407.0 492.1,396.4 496.6,387.4 501.2,369.3 505.7,345.2 510.2,330.1 514.7,322.6 516.9,310.0 518.9,299.8 521.9,287.8 523.9,265.9 526.2,239.0 526.5,230.0 564.5,230.0 564.8,300.0 569.0,426.5 571.0,431.5 577.0,414.5 578.1,300.0 578.3,230.0 593.0,230.0 593.2,239.0 596.2,272.9 598.0,275.0" fill="none" stroke="#2a9a98" stroke-width="1.3" stroke-linejoin="round" stroke-linecap="round"/><polyline points="348.5,346.6 352.5,334.6 357.0,327.7 363.1,342.1 366.1,339.1 369.1,324.7 372.7,337.6 378.1,344.5 381.7,352.1 384.1,347.5 390.1,345.7 394.7,345.7 399.2,348.1 402.8,340.6 406.7,327.1 409.7,337.6 412.7,354.2 415.7,364.7 418.7,361.7 422.6,355.7 425.6,358.7 429.3,370.7 432.3,378.2 434.7,376.7 438.3,385.8 444.3,391.8 448.8,393.3 453.3,388.8 458.8,394.8 462.4,393.9 468.4,387.3 472.5,391.9 477.1,396.4 481.6,397.9 484.6,394.9 489.1,381.3 493.6,364.8 498.1,351.2 502.7,336.2 505.7,318.1 507.9,310.0 511.9,294.8 515.5,292.2 517.9,263.9 520.9,250.0 522.5,239.0 523.0,230.0 564.5,230.0 564.7,300.0 567.4,423.5 570.5,431.1 577.1,413.0 578.1,300.0 578.3,230.0 598.0,230.0" fill="none" stroke="#2a2a2a" stroke-width="1.3" stroke-linejoin="round" stroke-linecap="round"/></g><line x1="466.9" y1="369.2" x2="466.9" y2="383" stroke="#222" stroke-width="1"/><polyline points="464.29999999999995,378 466.9,383 469.5,378" fill="none" stroke="#222" stroke-width="1"/>
<rect x="45.2" y="238.8" width="249.0" height="204.3" fill="none" stroke="#3a3a3a" stroke-width="1.4"/>
<rect x="348.5" y="238.8" width="249.0" height="204.3" fill="none" stroke="#3a3a3a" stroke-width="1.4"/>
<rect x="59.5" y="251.2" width="90" height="19" fill="#fff" stroke="#777" stroke-width="0.8"/>
<text x="66.0" y="263.9" class="lg" style="font-size:12px">CeH<tspan font-size="7.5" dy="3.5">10</tspan><tspan dy="-3.5">@400GPa</tspan></text>
<rect x="363" y="251.6" width="89.3" height="18.6" fill="#fff" stroke="#777" stroke-width="0.8"/>
<text x="369.5" y="264.09999999999997" class="lg" style="font-size:12px">CeH<tspan font-size="7.5" dy="3.5">10</tspan><tspan dy="-3.5">@700GPa</tspan></text>
<rect x="209.3" y="247.8" width="78.5" height="85.8" fill="#fff" stroke="#999" stroke-width="0.8"/>
<line x1="215" y1="256.00" x2="236.5" y2="256.00" stroke="#e8383a" stroke-width="1.3"/>
<text transform="translate(239.3,259.50) scale(0.92,1)" class="lb">Ce-s</text>
<line x1="215" y1="268.17" x2="236.5" y2="268.17" stroke="#2a2aa8" stroke-width="1.3"/>
<text transform="translate(239.3,271.67) scale(0.92,1)" class="lb">Ce-p</text>
<line x1="215" y1="280.34" x2="236.5" y2="280.34" stroke="#2a9a2a" stroke-width="1.3"/>
<text transform="translate(239.3,283.84) scale(0.92,1)" class="lb">Ce-d</text>
<line x1="215" y1="292.51" x2="236.5" y2="292.51" stroke="#2a9a98" stroke-width="1.3"/>
<text transform="translate(239.3,296.01) scale(0.92,1)" class="lb">Ce-f</text>
<line x1="215" y1="304.68" x2="236.5" y2="304.68" stroke="#f5a030" stroke-width="1.3"/>
<text transform="translate(239.3,308.18) scale(0.92,1)" class="lb">H-s</text>
<line x1="215" y1="316.85" x2="236.5" y2="316.85" stroke="#333" stroke-width="1.3"/>
<text transform="translate(239.3,320.35) scale(0.92,1)" class="lb">total</text>
<line x1="215" y1="329.02" x2="236.5" y2="329.02" stroke="#444" stroke-width="1.3" stroke-dasharray="1,1"/>
<text transform="translate(239.3,332.52) scale(0.92,1)" class="lb">Fermi level</text>
<text x="144.2" y="479.8" class="at" style="font-size:13.5px">E-E<tspan font-size="9.5" dy="3">F</tspan><tspan dy="-3">(eV)</tspan></text>
<text x="447.5" y="479.8" class="at" style="font-size:13.5px">E-E<tspan font-size="9.5" dy="3">F</tspan><tspan dy="-3">(eV)</tspan></text>
<circle cx="179.2" cy="115.9" r="20.3" fill="none" stroke="#e8282a" stroke-width="2.8" stroke-dasharray="5.6,2.4"/>
<circle cx="481.1" cy="116.8" r="20.5" fill="none" stroke="#e8282a" stroke-width="2.8" stroke-dasharray="5.6,2.4"/>
<!--EXTRA-->
</svg></body></html>
